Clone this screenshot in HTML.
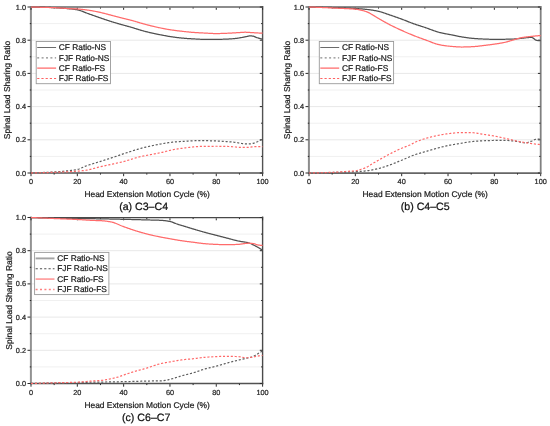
<!DOCTYPE html>
<html><head><meta charset="utf-8"><title>Spinal Load Sharing Ratio</title>
<style>
html,body{margin:0;padding:0;background:#fff;}
body{width:550px;height:426px;overflow:hidden;}
svg{display:block;}
</style></head>
<body>
<svg width="550" height="426" viewBox="0 0 550 426" font-family="'Liberation Sans', Arial, sans-serif">
<style>text{stroke:currentColor;stroke-width:0.22px;text-rendering:geometricPrecision;}</style>
<rect width="550" height="426" fill="#fff"/>
<line x1="32" y1="156.4" x2="261.6" y2="156.4" stroke="#f0f0f0" stroke-width="1"/>
<line x1="32" y1="139.8" x2="261.6" y2="139.8" stroke="#e8e8e8" stroke-width="1"/>
<line x1="32" y1="123.2" x2="261.6" y2="123.2" stroke="#f0f0f0" stroke-width="1"/>
<line x1="32" y1="106.6" x2="261.6" y2="106.6" stroke="#e8e8e8" stroke-width="1"/>
<line x1="32" y1="90" x2="261.6" y2="90" stroke="#f0f0f0" stroke-width="1"/>
<line x1="32" y1="73.4" x2="261.6" y2="73.4" stroke="#e8e8e8" stroke-width="1"/>
<line x1="32" y1="56.8" x2="261.6" y2="56.8" stroke="#f0f0f0" stroke-width="1"/>
<line x1="32" y1="40.2" x2="261.6" y2="40.2" stroke="#e8e8e8" stroke-width="1"/>
<line x1="32" y1="23.6" x2="261.6" y2="23.6" stroke="#f0f0f0" stroke-width="1"/>
<line x1="30.9" y1="6" x2="30.9" y2="173.8" stroke="#8c8c8c" stroke-width="2"/>
<line x1="30" y1="6.9" x2="263.2" y2="6.9" stroke="#8c8c8c" stroke-width="2"/>
<line x1="30" y1="173.1" x2="263.3" y2="173.1" stroke="#525252" stroke-width="1.5"/>
<line x1="262.6" y1="6" x2="262.6" y2="173.8" stroke="#525252" stroke-width="1.4"/>
<path d="M31,173.6V176.2M31,7.8V9.8M27.5,173H30.4M259.8,173H262.2M54.16,173.2V174.6M54.16,7.5V8.6M29.8,156.4H31.2M261.1,156.4H262.4M77.32,173.6V176.2M77.32,7.8V9.8M27.5,139.8H30.4M259.8,139.8H262.2M100.48,173.2V174.6M100.48,7.5V8.6M29.8,123.2H31.2M261.1,123.2H262.4M123.64,173.6V176.2M123.64,7.8V9.8M27.5,106.6H30.4M259.8,106.6H262.2M146.8,173.2V174.6M146.8,7.5V8.6M29.8,90H31.2M261.1,90H262.4M169.96,173.6V176.2M169.96,7.8V9.8M27.5,73.4H30.4M259.8,73.4H262.2M193.12,173.2V174.6M193.12,7.5V8.6M29.8,56.8H31.2M261.1,56.8H262.4M216.28,173.6V176.2M216.28,7.8V9.8M27.5,40.2H30.4M259.8,40.2H262.2M239.44,173.2V174.6M239.44,7.5V8.6M29.8,23.6H31.2M261.1,23.6H262.4M262.6,173.6V176.2M262.6,7.8V9.8M27.5,7H30.4M259.8,7H262.2" stroke="#2a2a2a" stroke-width="1" fill="none"/>
<path d="M31,7 L31.58,7 L32.16,7 L32.74,7.01 L33.32,7.01 L33.9,7.01 L34.47,7.02 L35.05,7.03 L35.63,7.03 L36.21,7.04 L36.79,7.05 L37.37,7.06 L37.95,7.07 L38.53,7.08 L39.11,7.09 L39.69,7.11 L40.26,7.12 L40.84,7.13 L41.42,7.14 L42,7.15 L42.58,7.17 L43.16,7.18 L43.74,7.19 L44.32,7.21 L44.9,7.23 L45.48,7.25 L46.05,7.27 L46.63,7.29 L47.21,7.32 L47.79,7.34 L48.37,7.37 L48.95,7.4 L49.53,7.42 L50.11,7.45 L50.69,7.48 L51.27,7.51 L51.84,7.54 L52.42,7.57 L53,7.6 L53.58,7.63 L54.16,7.66 L54.74,7.7 L55.32,7.73 L55.9,7.76 L56.48,7.79 L57.06,7.83 L57.63,7.86 L58.21,7.9 L58.79,7.94 L59.37,7.97 L59.95,8.01 L60.53,8.05 L61.11,8.09 L61.69,8.13 L62.27,8.17 L62.85,8.22 L63.42,8.26 L64,8.3 L64.58,8.35 L65.16,8.4 L65.74,8.45 L66.32,8.5 L66.9,8.55 L67.48,8.6 L68.06,8.65 L68.64,8.7 L69.21,8.76 L69.79,8.81 L70.37,8.87 L70.95,8.93 L71.53,8.99 L72.11,9.06 L72.69,9.13 L73.27,9.2 L73.85,9.27 L74.42,9.35 L75,9.43 L75.58,9.52 L76.16,9.62 L76.74,9.72 L77.32,9.82 L77.9,9.94 L78.48,10.08 L79.06,10.23 L79.64,10.4 L80.22,10.58 L80.79,10.78 L81.37,10.98 L81.95,11.2 L82.53,11.42 L83.11,11.65 L83.69,11.88 L84.27,12.11 L84.85,12.35 L85.43,12.58 L86.01,12.81 L86.58,13.04 L87.16,13.26 L87.74,13.47 L88.32,13.68 L88.9,13.88 L89.48,14.09 L90.06,14.29 L90.64,14.5 L91.22,14.7 L91.8,14.91 L92.37,15.11 L92.95,15.32 L93.53,15.52 L94.11,15.73 L94.69,15.93 L95.27,16.14 L95.85,16.34 L96.43,16.55 L97.01,16.75 L97.59,16.95 L98.16,17.16 L98.74,17.36 L99.32,17.56 L99.9,17.76 L100.48,17.96 L101.06,18.15 L101.64,18.35 L102.22,18.55 L102.8,18.75 L103.38,18.95 L103.95,19.15 L104.53,19.34 L105.11,19.54 L105.69,19.74 L106.27,19.93 L106.85,20.12 L107.43,20.32 L108.01,20.51 L108.59,20.7 L109.17,20.89 L109.74,21.07 L110.32,21.26 L110.9,21.44 L111.48,21.62 L112.06,21.8 L112.64,21.98 L113.22,22.16 L113.8,22.33 L114.38,22.51 L114.95,22.68 L115.53,22.85 L116.11,23.02 L116.69,23.19 L117.27,23.36 L117.85,23.53 L118.43,23.7 L119.01,23.86 L119.59,24.03 L120.17,24.2 L120.75,24.36 L121.32,24.53 L121.9,24.69 L122.48,24.85 L123.06,25.01 L123.64,25.17 L124.22,25.33 L124.8,25.49 L125.38,25.65 L125.96,25.8 L126.54,25.96 L127.11,26.12 L127.69,26.28 L128.27,26.44 L128.85,26.6 L129.43,26.76 L130.01,26.92 L130.59,27.09 L131.17,27.25 L131.75,27.42 L132.33,27.59 L132.9,27.76 L133.48,27.94 L134.06,28.12 L134.64,28.3 L135.22,28.48 L135.8,28.66 L136.38,28.85 L136.96,29.03 L137.54,29.21 L138.12,29.4 L138.69,29.58 L139.27,29.76 L139.85,29.94 L140.43,30.11 L141.01,30.28 L141.59,30.45 L142.17,30.61 L142.75,30.77 L143.33,30.93 L143.91,31.08 L144.48,31.23 L145.06,31.38 L145.64,31.53 L146.22,31.68 L146.8,31.82 L147.38,31.97 L147.96,32.11 L148.54,32.25 L149.12,32.39 L149.7,32.53 L150.27,32.66 L150.85,32.8 L151.43,32.93 L152.01,33.06 L152.59,33.19 L153.17,33.32 L153.75,33.44 L154.33,33.57 L154.91,33.69 L155.49,33.81 L156.06,33.93 L156.64,34.05 L157.22,34.17 L157.8,34.29 L158.38,34.4 L158.96,34.52 L159.54,34.63 L160.12,34.74 L160.7,34.85 L161.28,34.96 L161.85,35.07 L162.43,35.18 L163.01,35.29 L163.59,35.4 L164.17,35.51 L164.75,35.62 L165.33,35.73 L165.91,35.84 L166.49,35.94 L167.07,36.05 L167.64,36.16 L168.22,36.26 L168.8,36.36 L169.38,36.46 L169.96,36.55 L170.54,36.64 L171.12,36.72 L171.7,36.81 L172.28,36.9 L172.86,36.98 L173.43,37.06 L174.01,37.15 L174.59,37.23 L175.17,37.31 L175.75,37.38 L176.33,37.46 L176.91,37.53 L177.49,37.6 L178.07,37.67 L178.65,37.74 L179.22,37.81 L179.8,37.87 L180.38,37.93 L180.96,37.99 L181.54,38.04 L182.12,38.09 L182.7,38.15 L183.28,38.2 L183.86,38.24 L184.44,38.29 L185.01,38.34 L185.59,38.38 L186.17,38.43 L186.75,38.47 L187.33,38.51 L187.91,38.55 L188.49,38.59 L189.07,38.63 L189.65,38.67 L190.23,38.7 L190.8,38.74 L191.38,38.77 L191.96,38.81 L192.54,38.84 L193.12,38.87 L193.7,38.9 L194.28,38.94 L194.86,38.97 L195.44,39 L196.01,39.04 L196.59,39.07 L197.17,39.1 L197.75,39.14 L198.33,39.17 L198.91,39.2 L199.49,39.23 L200.07,39.25 L200.65,39.28 L201.23,39.3 L201.81,39.32 L202.38,39.34 L202.96,39.35 L203.54,39.36 L204.12,39.37 L204.7,39.37 L205.28,39.37 L205.86,39.37 L206.44,39.37 L207.02,39.37 L207.59,39.37 L208.17,39.37 L208.75,39.37 L209.33,39.37 L209.91,39.37 L210.49,39.37 L211.07,39.37 L211.65,39.37 L212.23,39.37 L212.81,39.37 L213.38,39.37 L213.96,39.37 L214.54,39.37 L215.12,39.37 L215.7,39.37 L216.28,39.37 L216.86,39.37 L217.44,39.37 L218.02,39.36 L218.6,39.35 L219.18,39.34 L219.75,39.33 L220.33,39.32 L220.91,39.3 L221.49,39.28 L222.07,39.27 L222.65,39.25 L223.23,39.23 L223.81,39.2 L224.39,39.18 L224.97,39.16 L225.54,39.14 L226.12,39.11 L226.7,39.09 L227.28,39.06 L227.86,39.04 L228.44,39.01 L229.02,38.98 L229.6,38.95 L230.18,38.91 L230.76,38.88 L231.33,38.84 L231.91,38.79 L232.49,38.75 L233.07,38.7 L233.65,38.65 L234.23,38.59 L234.81,38.54 L235.39,38.48 L235.97,38.41 L236.55,38.34 L237.12,38.26 L237.7,38.18 L238.28,38.09 L238.86,38 L239.44,37.9 L240.02,37.81 L240.6,37.71 L241.18,37.61 L241.76,37.5 L242.34,37.39 L242.91,37.27 L243.49,37.14 L244.07,37.02 L244.65,36.9 L245.23,36.78 L245.81,36.66 L246.39,36.55 L246.97,36.43 L247.55,36.29 L248.13,36.15 L248.7,36.03 L249.28,35.94 L249.86,35.89 L250.44,35.89 L251.02,35.92 L251.6,35.97 L252.18,36.04 L252.76,36.13 L253.34,36.22 L253.92,36.35 L254.49,36.56 L255.07,36.81 L255.65,37.07 L256.23,37.33 L256.81,37.54 L257.39,37.73 L257.97,37.92 L258.55,38.1 L259.13,38.28 L259.71,38.45 L260.28,38.61 L260.86,38.77 L261.44,38.92 L262.02,39.07 L262.6,39.2" stroke="#505050" stroke-width="1.25" fill="none" stroke-linejoin="round"/>
<path d="M31,173 L31.58,172.98 L32.16,172.95 L32.74,172.93 L33.32,172.9 L33.9,172.88 L34.47,172.85 L35.05,172.83 L35.63,172.8 L36.21,172.78 L36.79,172.75 L37.37,172.73 L37.95,172.7 L38.53,172.68 L39.11,172.65 L39.69,172.63 L40.26,172.6 L40.84,172.58 L41.42,172.55 L42,172.53 L42.58,172.5 L43.16,172.48 L43.74,172.45 L44.32,172.43 L44.9,172.41 L45.48,172.39 L46.05,172.36 L46.63,172.34 L47.21,172.32 L47.79,172.3 L48.37,172.27 L48.95,172.25 L49.53,172.23 L50.11,172.2 L50.69,172.18 L51.27,172.15 L51.84,172.12 L52.42,172.1 L53,172.07 L53.58,172.04 L54.16,172 L54.74,171.97 L55.32,171.93 L55.9,171.89 L56.48,171.85 L57.06,171.81 L57.63,171.77 L58.21,171.72 L58.79,171.67 L59.37,171.62 L59.95,171.57 L60.53,171.52 L61.11,171.47 L61.69,171.41 L62.27,171.36 L62.85,171.3 L63.42,171.24 L64,171.19 L64.58,171.13 L65.16,171.07 L65.74,171.01 L66.32,170.95 L66.9,170.89 L67.48,170.83 L68.06,170.77 L68.64,170.72 L69.21,170.66 L69.79,170.6 L70.37,170.54 L70.95,170.47 L71.53,170.4 L72.11,170.34 L72.69,170.26 L73.27,170.19 L73.85,170.11 L74.42,170.02 L75,169.93 L75.58,169.84 L76.16,169.73 L76.74,169.63 L77.32,169.51 L77.9,169.38 L78.48,169.21 L79.06,169.01 L79.64,168.79 L80.22,168.55 L80.79,168.29 L81.37,168.02 L81.95,167.74 L82.53,167.46 L83.11,167.19 L83.69,166.92 L84.27,166.66 L84.85,166.42 L85.43,166.19 L86.01,165.99 L86.58,165.78 L87.16,165.58 L87.74,165.38 L88.32,165.19 L88.9,164.99 L89.48,164.8 L90.06,164.62 L90.64,164.43 L91.22,164.25 L91.8,164.06 L92.37,163.88 L92.95,163.7 L93.53,163.53 L94.11,163.35 L94.69,163.17 L95.27,162.99 L95.85,162.82 L96.43,162.64 L97.01,162.46 L97.59,162.29 L98.16,162.11 L98.74,161.93 L99.32,161.75 L99.9,161.56 L100.48,161.38 L101.06,161.2 L101.64,161.01 L102.22,160.83 L102.8,160.64 L103.38,160.46 L103.95,160.28 L104.53,160.09 L105.11,159.91 L105.69,159.73 L106.27,159.54 L106.85,159.36 L107.43,159.18 L108.01,158.99 L108.59,158.81 L109.17,158.62 L109.74,158.44 L110.32,158.25 L110.9,158.06 L111.48,157.88 L112.06,157.69 L112.64,157.5 L113.22,157.31 L113.8,157.11 L114.38,156.92 L114.95,156.72 L115.53,156.53 L116.11,156.33 L116.69,156.13 L117.27,155.93 L117.85,155.73 L118.43,155.52 L119.01,155.32 L119.59,155.12 L120.17,154.92 L120.75,154.72 L121.32,154.52 L121.9,154.32 L122.48,154.13 L123.06,153.94 L123.64,153.74 L124.22,153.55 L124.8,153.36 L125.38,153.17 L125.96,152.98 L126.54,152.79 L127.11,152.6 L127.69,152.41 L128.27,152.22 L128.85,152.03 L129.43,151.84 L130.01,151.65 L130.59,151.47 L131.17,151.28 L131.75,151.09 L132.33,150.91 L132.9,150.72 L133.48,150.54 L134.06,150.36 L134.64,150.18 L135.22,150.01 L135.8,149.83 L136.38,149.66 L136.96,149.49 L137.54,149.32 L138.12,149.15 L138.69,148.98 L139.27,148.82 L139.85,148.66 L140.43,148.5 L141.01,148.35 L141.59,148.19 L142.17,148.04 L142.75,147.89 L143.33,147.75 L143.91,147.6 L144.48,147.45 L145.06,147.31 L145.64,147.17 L146.22,147.03 L146.8,146.89 L147.38,146.76 L147.96,146.62 L148.54,146.49 L149.12,146.35 L149.7,146.22 L150.27,146.1 L150.85,145.97 L151.43,145.84 L152.01,145.72 L152.59,145.59 L153.17,145.47 L153.75,145.35 L154.33,145.22 L154.91,145.11 L155.49,144.99 L156.06,144.87 L156.64,144.75 L157.22,144.64 L157.8,144.53 L158.38,144.42 L158.96,144.31 L159.54,144.2 L160.12,144.09 L160.7,143.99 L161.28,143.88 L161.85,143.78 L162.43,143.68 L163.01,143.58 L163.59,143.48 L164.17,143.38 L164.75,143.28 L165.33,143.18 L165.91,143.09 L166.49,142.99 L167.07,142.9 L167.64,142.8 L168.22,142.71 L168.8,142.62 L169.38,142.54 L169.96,142.46 L170.54,142.38 L171.12,142.31 L171.7,142.24 L172.28,142.17 L172.86,142.11 L173.43,142.05 L174.01,142 L174.59,141.94 L175.17,141.89 L175.75,141.84 L176.33,141.79 L176.91,141.74 L177.49,141.7 L178.07,141.65 L178.65,141.61 L179.22,141.57 L179.8,141.53 L180.38,141.49 L180.96,141.45 L181.54,141.41 L182.12,141.38 L182.7,141.35 L183.28,141.31 L183.86,141.28 L184.44,141.25 L185.01,141.22 L185.59,141.19 L186.17,141.15 L186.75,141.12 L187.33,141.09 L187.91,141.06 L188.49,141.02 L189.07,140.99 L189.65,140.96 L190.23,140.93 L190.8,140.9 L191.38,140.87 L191.96,140.85 L192.54,140.82 L193.12,140.79 L193.7,140.77 L194.28,140.75 L194.86,140.73 L195.44,140.71 L196.01,140.69 L196.59,140.68 L197.17,140.66 L197.75,140.65 L198.33,140.64 L198.91,140.64 L199.49,140.63 L200.07,140.63 L200.65,140.63 L201.23,140.63 L201.81,140.64 L202.38,140.64 L202.96,140.64 L203.54,140.65 L204.12,140.66 L204.7,140.67 L205.28,140.67 L205.86,140.68 L206.44,140.7 L207.02,140.71 L207.59,140.72 L208.17,140.73 L208.75,140.75 L209.33,140.76 L209.91,140.77 L210.49,140.79 L211.07,140.81 L211.65,140.82 L212.23,140.84 L212.81,140.85 L213.38,140.87 L213.96,140.89 L214.54,140.91 L215.12,140.93 L215.7,140.94 L216.28,140.96 L216.86,140.98 L217.44,141 L218.02,141.03 L218.6,141.06 L219.18,141.09 L219.75,141.12 L220.33,141.15 L220.91,141.19 L221.49,141.22 L222.07,141.26 L222.65,141.3 L223.23,141.34 L223.81,141.38 L224.39,141.42 L224.97,141.47 L225.54,141.51 L226.12,141.55 L226.7,141.59 L227.28,141.63 L227.86,141.68 L228.44,141.72 L229.02,141.76 L229.6,141.81 L230.18,141.85 L230.76,141.9 L231.33,141.95 L231.91,142 L232.49,142.05 L233.07,142.11 L233.65,142.16 L234.23,142.23 L234.81,142.29 L235.39,142.36 L235.97,142.45 L236.55,142.55 L237.12,142.65 L237.7,142.76 L238.28,142.87 L238.86,142.99 L239.44,143.1 L240.02,143.21 L240.6,143.32 L241.18,143.41 L241.76,143.5 L242.34,143.58 L242.91,143.64 L243.49,143.71 L244.07,143.77 L244.65,143.83 L245.23,143.88 L245.81,143.92 L246.39,143.94 L246.97,143.95 L247.55,143.94 L248.13,143.93 L248.7,143.9 L249.28,143.87 L249.86,143.83 L250.44,143.79 L251.02,143.74 L251.6,143.66 L252.18,143.56 L252.76,143.43 L253.34,143.3 L253.92,143.15 L254.49,142.99 L255.07,142.79 L255.65,142.56 L256.23,142.31 L256.81,142.05 L257.39,141.79 L257.97,141.52 L258.55,141.2 L259.13,140.86 L259.71,140.51 L260.28,140.19 L260.86,139.92 L261.44,139.73 L262.02,139.58 L262.6,139.47" stroke="#5e5e5e" stroke-width="1.2" fill="none" stroke-linejoin="round" stroke-dasharray="2.1,1.8"/>
<path d="M31,7 L31.58,7.02 L32.16,7.03 L32.74,7.05 L33.32,7.07 L33.9,7.08 L34.47,7.1 L35.05,7.12 L35.63,7.13 L36.21,7.15 L36.79,7.17 L37.37,7.18 L37.95,7.2 L38.53,7.22 L39.11,7.23 L39.69,7.25 L40.26,7.27 L40.84,7.28 L41.42,7.3 L42,7.32 L42.58,7.33 L43.16,7.35 L43.74,7.36 L44.32,7.38 L44.9,7.39 L45.48,7.41 L46.05,7.42 L46.63,7.44 L47.21,7.45 L47.79,7.47 L48.37,7.48 L48.95,7.5 L49.53,7.51 L50.11,7.53 L50.69,7.55 L51.27,7.56 L51.84,7.58 L52.42,7.6 L53,7.62 L53.58,7.64 L54.16,7.66 L54.74,7.69 L55.32,7.71 L55.9,7.74 L56.48,7.77 L57.06,7.8 L57.63,7.84 L58.21,7.87 L58.79,7.91 L59.37,7.95 L59.95,7.99 L60.53,8.03 L61.11,8.07 L61.69,8.11 L62.27,8.15 L62.85,8.2 L63.42,8.24 L64,8.28 L64.58,8.32 L65.16,8.36 L65.74,8.4 L66.32,8.44 L66.9,8.48 L67.48,8.52 L68.06,8.56 L68.64,8.59 L69.21,8.62 L69.79,8.65 L70.37,8.68 L70.95,8.71 L71.53,8.73 L72.11,8.76 L72.69,8.78 L73.27,8.8 L73.85,8.83 L74.42,8.85 L75,8.87 L75.58,8.9 L76.16,8.93 L76.74,8.96 L77.32,8.99 L77.9,9.03 L78.48,9.07 L79.06,9.12 L79.64,9.16 L80.22,9.21 L80.79,9.27 L81.37,9.32 L81.95,9.38 L82.53,9.45 L83.11,9.51 L83.69,9.58 L84.27,9.65 L84.85,9.72 L85.43,9.79 L86.01,9.86 L86.58,9.94 L87.16,10.01 L87.74,10.09 L88.32,10.17 L88.9,10.25 L89.48,10.34 L90.06,10.43 L90.64,10.52 L91.22,10.62 L91.8,10.72 L92.37,10.82 L92.95,10.92 L93.53,11.03 L94.11,11.14 L94.69,11.26 L95.27,11.37 L95.85,11.49 L96.43,11.61 L97.01,11.73 L97.59,11.85 L98.16,11.98 L98.74,12.1 L99.32,12.23 L99.9,12.35 L100.48,12.48 L101.06,12.61 L101.64,12.74 L102.22,12.88 L102.8,13.02 L103.38,13.16 L103.95,13.3 L104.53,13.45 L105.11,13.6 L105.69,13.75 L106.27,13.91 L106.85,14.06 L107.43,14.21 L108.01,14.37 L108.59,14.52 L109.17,14.68 L109.74,14.83 L110.32,14.98 L110.9,15.13 L111.48,15.28 L112.06,15.44 L112.64,15.59 L113.22,15.74 L113.8,15.89 L114.38,16.05 L114.95,16.2 L115.53,16.35 L116.11,16.51 L116.69,16.66 L117.27,16.81 L117.85,16.96 L118.43,17.11 L119.01,17.27 L119.59,17.42 L120.17,17.56 L120.75,17.71 L121.32,17.86 L121.9,18 L122.48,18.15 L123.06,18.29 L123.64,18.43 L124.22,18.57 L124.8,18.71 L125.38,18.85 L125.96,18.99 L126.54,19.13 L127.11,19.27 L127.69,19.41 L128.27,19.56 L128.85,19.7 L129.43,19.84 L130.01,19.99 L130.59,20.14 L131.17,20.29 L131.75,20.45 L132.33,20.6 L132.9,20.76 L133.48,20.93 L134.06,21.09 L134.64,21.26 L135.22,21.43 L135.8,21.6 L136.38,21.77 L136.96,21.95 L137.54,22.12 L138.12,22.29 L138.69,22.47 L139.27,22.64 L139.85,22.81 L140.43,22.98 L141.01,23.14 L141.59,23.31 L142.17,23.47 L142.75,23.63 L143.33,23.79 L143.91,23.95 L144.48,24.11 L145.06,24.26 L145.64,24.42 L146.22,24.57 L146.8,24.73 L147.38,24.88 L147.96,25.03 L148.54,25.19 L149.12,25.34 L149.7,25.48 L150.27,25.63 L150.85,25.78 L151.43,25.92 L152.01,26.06 L152.59,26.2 L153.17,26.34 L153.75,26.48 L154.33,26.61 L154.91,26.74 L155.49,26.88 L156.06,27.01 L156.64,27.14 L157.22,27.26 L157.8,27.39 L158.38,27.52 L158.96,27.64 L159.54,27.76 L160.12,27.88 L160.7,28.01 L161.28,28.12 L161.85,28.24 L162.43,28.36 L163.01,28.47 L163.59,28.59 L164.17,28.7 L164.75,28.81 L165.33,28.92 L165.91,29.03 L166.49,29.14 L167.07,29.25 L167.64,29.36 L168.22,29.46 L168.8,29.56 L169.38,29.65 L169.96,29.74 L170.54,29.83 L171.12,29.92 L171.7,30 L172.28,30.08 L172.86,30.16 L173.43,30.24 L174.01,30.32 L174.59,30.4 L175.17,30.47 L175.75,30.55 L176.33,30.62 L176.91,30.69 L177.49,30.76 L178.07,30.83 L178.65,30.9 L179.22,30.97 L179.8,31.04 L180.38,31.1 L180.96,31.17 L181.54,31.24 L182.12,31.3 L182.7,31.37 L183.28,31.43 L183.86,31.5 L184.44,31.56 L185.01,31.63 L185.59,31.69 L186.17,31.75 L186.75,31.81 L187.33,31.87 L187.91,31.93 L188.49,31.99 L189.07,32.05 L189.65,32.11 L190.23,32.16 L190.8,32.21 L191.38,32.26 L191.96,32.31 L192.54,32.35 L193.12,32.4 L193.7,32.44 L194.28,32.48 L194.86,32.52 L195.44,32.56 L196.01,32.59 L196.59,32.63 L197.17,32.66 L197.75,32.7 L198.33,32.73 L198.91,32.76 L199.49,32.8 L200.07,32.83 L200.65,32.86 L201.23,32.89 L201.81,32.92 L202.38,32.95 L202.96,32.98 L203.54,33 L204.12,33.03 L204.7,33.06 L205.28,33.09 L205.86,33.12 L206.44,33.15 L207.02,33.19 L207.59,33.22 L208.17,33.25 L208.75,33.29 L209.33,33.32 L209.91,33.35 L210.49,33.38 L211.07,33.41 L211.65,33.44 L212.23,33.47 L212.81,33.49 L213.38,33.51 L213.96,33.53 L214.54,33.54 L215.12,33.55 L215.7,33.56 L216.28,33.56 L216.86,33.56 L217.44,33.55 L218.02,33.55 L218.6,33.54 L219.18,33.53 L219.75,33.52 L220.33,33.5 L220.91,33.49 L221.49,33.47 L222.07,33.45 L222.65,33.43 L223.23,33.41 L223.81,33.39 L224.39,33.36 L224.97,33.34 L225.54,33.32 L226.12,33.3 L226.7,33.27 L227.28,33.25 L227.86,33.23 L228.44,33.2 L229.02,33.18 L229.6,33.15 L230.18,33.12 L230.76,33.09 L231.33,33.06 L231.91,33.03 L232.49,32.99 L233.07,32.96 L233.65,32.92 L234.23,32.89 L234.81,32.85 L235.39,32.81 L235.97,32.78 L236.55,32.74 L237.12,32.7 L237.7,32.67 L238.28,32.63 L238.86,32.6 L239.44,32.56 L240.02,32.53 L240.6,32.49 L241.18,32.44 L241.76,32.4 L242.34,32.36 L242.91,32.32 L243.49,32.28 L244.07,32.26 L244.65,32.24 L245.23,32.23 L245.81,32.24 L246.39,32.26 L246.97,32.28 L247.55,32.32 L248.13,32.36 L248.7,32.4 L249.28,32.44 L249.86,32.49 L250.44,32.53 L251.02,32.56 L251.6,32.6 L252.18,32.63 L252.76,32.66 L253.34,32.7 L253.92,32.73 L254.49,32.76 L255.07,32.8 L255.65,32.83 L256.23,32.86 L256.81,32.9 L257.39,32.93 L257.97,32.96 L258.55,33 L259.13,33.03 L259.71,33.06 L260.28,33.1 L260.86,33.13 L261.44,33.16 L262.02,33.19 L262.6,33.23" stroke="#ff6b6b" stroke-width="1.25" fill="none" stroke-linejoin="round"/>
<path d="M31,173 L31.58,172.98 L32.16,172.97 L32.74,172.95 L33.32,172.93 L33.9,172.92 L34.47,172.9 L35.05,172.88 L35.63,172.87 L36.21,172.85 L36.79,172.83 L37.37,172.82 L37.95,172.8 L38.53,172.78 L39.11,172.77 L39.69,172.75 L40.26,172.73 L40.84,172.72 L41.42,172.7 L42,172.68 L42.58,172.67 L43.16,172.65 L43.74,172.64 L44.32,172.62 L44.9,172.6 L45.48,172.59 L46.05,172.57 L46.63,172.56 L47.21,172.54 L47.79,172.53 L48.37,172.51 L48.95,172.49 L49.53,172.48 L50.11,172.46 L50.69,172.45 L51.27,172.43 L51.84,172.41 L52.42,172.39 L53,172.37 L53.58,172.36 L54.16,172.34 L54.74,172.32 L55.32,172.29 L55.9,172.27 L56.48,172.25 L57.06,172.23 L57.63,172.21 L58.21,172.18 L58.79,172.16 L59.37,172.13 L59.95,172.11 L60.53,172.08 L61.11,172.06 L61.69,172.03 L62.27,172 L62.85,171.98 L63.42,171.95 L64,171.92 L64.58,171.89 L65.16,171.87 L65.74,171.84 L66.32,171.81 L66.9,171.78 L67.48,171.75 L68.06,171.72 L68.64,171.69 L69.21,171.67 L69.79,171.64 L70.37,171.61 L70.95,171.57 L71.53,171.54 L72.11,171.51 L72.69,171.48 L73.27,171.44 L73.85,171.41 L74.42,171.37 L75,171.34 L75.58,171.3 L76.16,171.26 L76.74,171.22 L77.32,171.17 L77.9,171.13 L78.48,171.08 L79.06,171.04 L79.64,170.99 L80.22,170.93 L80.79,170.88 L81.37,170.82 L81.95,170.76 L82.53,170.7 L83.11,170.64 L83.69,170.57 L84.27,170.5 L84.85,170.42 L85.43,170.34 L86.01,170.26 L86.58,170.16 L87.16,170.06 L87.74,169.95 L88.32,169.83 L88.9,169.71 L89.48,169.58 L90.06,169.44 L90.64,169.3 L91.22,169.15 L91.8,169 L92.37,168.85 L92.95,168.69 L93.53,168.53 L94.11,168.37 L94.69,168.21 L95.27,168.05 L95.85,167.89 L96.43,167.73 L97.01,167.57 L97.59,167.42 L98.16,167.26 L98.74,167.11 L99.32,166.97 L99.9,166.83 L100.48,166.69 L101.06,166.56 L101.64,166.43 L102.22,166.3 L102.8,166.17 L103.38,166.04 L103.95,165.92 L104.53,165.79 L105.11,165.67 L105.69,165.54 L106.27,165.42 L106.85,165.3 L107.43,165.17 L108.01,165.05 L108.59,164.93 L109.17,164.8 L109.74,164.68 L110.32,164.55 L110.9,164.43 L111.48,164.3 L112.06,164.18 L112.64,164.05 L113.22,163.92 L113.8,163.79 L114.38,163.66 L114.95,163.54 L115.53,163.41 L116.11,163.28 L116.69,163.16 L117.27,163.03 L117.85,162.9 L118.43,162.77 L119.01,162.64 L119.59,162.51 L120.17,162.38 L120.75,162.25 L121.32,162.11 L121.9,161.97 L122.48,161.83 L123.06,161.69 L123.64,161.55 L124.22,161.4 L124.8,161.24 L125.38,161.08 L125.96,160.92 L126.54,160.75 L127.11,160.58 L127.69,160.4 L128.27,160.23 L128.85,160.05 L129.43,159.87 L130.01,159.68 L130.59,159.5 L131.17,159.32 L131.75,159.13 L132.33,158.95 L132.9,158.77 L133.48,158.59 L134.06,158.41 L134.64,158.23 L135.22,158.05 L135.8,157.88 L136.38,157.71 L136.96,157.54 L137.54,157.38 L138.12,157.23 L138.69,157.07 L139.27,156.93 L139.85,156.79 L140.43,156.65 L141.01,156.52 L141.59,156.39 L142.17,156.27 L142.75,156.15 L143.33,156.03 L143.91,155.92 L144.48,155.8 L145.06,155.69 L145.64,155.58 L146.22,155.47 L146.8,155.37 L147.38,155.26 L147.96,155.15 L148.54,155.04 L149.12,154.93 L149.7,154.82 L150.27,154.71 L150.85,154.6 L151.43,154.48 L152.01,154.37 L152.59,154.26 L153.17,154.15 L153.75,154.03 L154.33,153.92 L154.91,153.81 L155.49,153.7 L156.06,153.59 L156.64,153.48 L157.22,153.37 L157.8,153.25 L158.38,153.14 L158.96,153.02 L159.54,152.9 L160.12,152.79 L160.7,152.66 L161.28,152.54 L161.85,152.42 L162.43,152.29 L163.01,152.15 L163.59,152.01 L164.17,151.87 L164.75,151.72 L165.33,151.57 L165.91,151.41 L166.49,151.26 L167.07,151.11 L167.64,150.95 L168.22,150.8 L168.8,150.65 L169.38,150.51 L169.96,150.36 L170.54,150.23 L171.12,150.09 L171.7,149.97 L172.28,149.85 L172.86,149.74 L173.43,149.63 L174.01,149.53 L174.59,149.42 L175.17,149.33 L175.75,149.23 L176.33,149.13 L176.91,149.04 L177.49,148.95 L178.07,148.86 L178.65,148.77 L179.22,148.69 L179.8,148.6 L180.38,148.52 L180.96,148.44 L181.54,148.37 L182.12,148.29 L182.7,148.22 L183.28,148.14 L183.86,148.07 L184.44,148 L185.01,147.92 L185.59,147.85 L186.17,147.77 L186.75,147.7 L187.33,147.62 L187.91,147.55 L188.49,147.47 L189.07,147.4 L189.65,147.32 L190.23,147.25 L190.8,147.18 L191.38,147.11 L191.96,147.04 L192.54,146.98 L193.12,146.91 L193.7,146.85 L194.28,146.79 L194.86,146.74 L195.44,146.69 L196.01,146.64 L196.59,146.6 L197.17,146.56 L197.75,146.53 L198.33,146.5 L198.91,146.47 L199.49,146.45 L200.07,146.44 L200.65,146.43 L201.23,146.42 L201.81,146.41 L202.38,146.4 L202.96,146.39 L203.54,146.38 L204.12,146.37 L204.7,146.36 L205.28,146.36 L205.86,146.35 L206.44,146.34 L207.02,146.33 L207.59,146.33 L208.17,146.32 L208.75,146.31 L209.33,146.31 L209.91,146.3 L210.49,146.3 L211.07,146.29 L211.65,146.29 L212.23,146.29 L212.81,146.28 L213.38,146.28 L213.96,146.28 L214.54,146.28 L215.12,146.27 L215.7,146.27 L216.28,146.27 L216.86,146.27 L217.44,146.28 L218.02,146.28 L218.6,146.28 L219.18,146.29 L219.75,146.29 L220.33,146.3 L220.91,146.31 L221.49,146.32 L222.07,146.33 L222.65,146.34 L223.23,146.35 L223.81,146.36 L224.39,146.37 L224.97,146.39 L225.54,146.4 L226.12,146.41 L226.7,146.43 L227.28,146.44 L227.86,146.46 L228.44,146.49 L229.02,146.52 L229.6,146.55 L230.18,146.59 L230.76,146.63 L231.33,146.68 L231.91,146.72 L232.49,146.77 L233.07,146.81 L233.65,146.86 L234.23,146.9 L234.81,146.94 L235.39,146.98 L235.97,147.02 L236.55,147.07 L237.12,147.12 L237.7,147.16 L238.28,147.21 L238.86,147.26 L239.44,147.3 L240.02,147.34 L240.6,147.38 L241.18,147.4 L241.76,147.42 L242.34,147.43 L242.91,147.44 L243.49,147.44 L244.07,147.44 L244.65,147.44 L245.23,147.44 L245.81,147.44 L246.39,147.44 L246.97,147.44 L247.55,147.42 L248.13,147.38 L248.7,147.32 L249.28,147.26 L249.86,147.19 L250.44,147.12 L251.02,147.04 L251.6,146.94 L252.18,146.83 L252.76,146.73 L253.34,146.65 L253.92,146.61 L254.49,146.61 L255.07,146.61 L255.65,146.61 L256.23,146.61 L256.81,146.61 L257.39,146.61 L257.97,146.61 L258.55,146.61 L259.13,146.61 L259.71,146.61 L260.28,146.61 L260.86,146.61 L261.44,146.61 L262.02,146.61 L262.6,146.61" stroke="#ff6868" stroke-width="1.2" fill="none" stroke-linejoin="round" stroke-dasharray="2.1,1.8"/>
<rect x="36.2" y="41.5" width="74.3" height="42.2" fill="#fff" stroke="#9a9a9a" stroke-width="0.9"/>
<line x1="37.2" y1="47.5" x2="56.1" y2="47.5" stroke="#5a5a5a" stroke-width="0.9"/>
<text x="58.8" y="50.25" font-size="8.35" fill="#1a1a1a" color="#1a1a1a">CF Ratio-NS</text>
<line x1="37.2" y1="57.83" x2="56.1" y2="57.83" stroke="#8a8a8a" stroke-width="1.4" stroke-dasharray="2,2.4"/>
<text x="58.8" y="60.58" font-size="8.35" fill="#1a1a1a" color="#1a1a1a">FJF Ratio-NS</text>
<line x1="37.2" y1="68.16" x2="56.1" y2="68.16" stroke="#ff9090" stroke-width="1.7"/>
<text x="58.8" y="70.91" font-size="8.35" fill="#1a1a1a" color="#1a1a1a">CF Ratio-FS</text>
<line x1="37.2" y1="78.49" x2="56.1" y2="78.49" stroke="#ff6262" stroke-width="1.2" stroke-dasharray="2.2,2"/>
<text x="58.8" y="81.24" font-size="8.35" fill="#1a1a1a" color="#1a1a1a">FJF Ratio-FS</text>
<g font-size="7.3" fill="#262626" color="#262626"><text x="31" y="184.2" text-anchor="middle">0</text><text x="77.32" y="184.2" text-anchor="middle">20</text><text x="123.64" y="184.2" text-anchor="middle">40</text><text x="169.96" y="184.2" text-anchor="middle">60</text><text x="216.28" y="184.2" text-anchor="middle">80</text><text x="262.6" y="184.2" text-anchor="middle">100</text><text x="26" y="175.5" text-anchor="end">0.0</text><text x="26" y="142.3" text-anchor="end">0.2</text><text x="26" y="109.1" text-anchor="end">0.4</text><text x="26" y="75.9" text-anchor="end">0.6</text><text x="26" y="42.7" text-anchor="end">0.8</text><text x="26" y="9.5" text-anchor="end">1.0</text></g>
<text x="147.1" y="197" font-size="8.4" fill="#1a1a1a" color="#1a1a1a" text-anchor="middle">Head Extension Motion Cycle (%)</text>
<text transform="translate(10.2,90) rotate(-90)" font-size="8.48" fill="#1a1a1a" color="#1a1a1a" text-anchor="middle">Spinal Load Sharing Ratio</text>
<text x="143.6" y="210.3" font-size="10.6" fill="#111" color="#111" text-anchor="middle">(a) C3–C4</text>
<line x1="310" y1="156.4" x2="539.7" y2="156.4" stroke="#f0f0f0" stroke-width="1"/>
<line x1="310" y1="139.8" x2="539.7" y2="139.8" stroke="#e8e8e8" stroke-width="1"/>
<line x1="310" y1="123.2" x2="539.7" y2="123.2" stroke="#f0f0f0" stroke-width="1"/>
<line x1="310" y1="106.6" x2="539.7" y2="106.6" stroke="#e8e8e8" stroke-width="1"/>
<line x1="310" y1="90" x2="539.7" y2="90" stroke="#f0f0f0" stroke-width="1"/>
<line x1="310" y1="73.4" x2="539.7" y2="73.4" stroke="#e8e8e8" stroke-width="1"/>
<line x1="310" y1="56.8" x2="539.7" y2="56.8" stroke="#f0f0f0" stroke-width="1"/>
<line x1="310" y1="40.2" x2="539.7" y2="40.2" stroke="#e8e8e8" stroke-width="1"/>
<line x1="310" y1="23.6" x2="539.7" y2="23.6" stroke="#f0f0f0" stroke-width="1"/>
<line x1="308.9" y1="6" x2="308.9" y2="173.8" stroke="#8c8c8c" stroke-width="2"/>
<line x1="308" y1="6.9" x2="541.3" y2="6.9" stroke="#8c8c8c" stroke-width="2"/>
<line x1="308" y1="173.1" x2="541.4" y2="173.1" stroke="#666666" stroke-width="1.8"/>
<line x1="540.7" y1="6" x2="540.7" y2="173.8" stroke="#808080" stroke-width="1.8"/>
<path d="M309,173.6V176.2M309,7.8V9.8M305.5,173H308.4M537.9,173H540.3M332.17,173.2V174.6M332.17,7.5V8.6M307.8,156.4H309.2M539.2,156.4H540.5M355.34,173.6V176.2M355.34,7.8V9.8M305.5,139.8H308.4M537.9,139.8H540.3M378.51,173.2V174.6M378.51,7.5V8.6M307.8,123.2H309.2M539.2,123.2H540.5M401.68,173.6V176.2M401.68,7.8V9.8M305.5,106.6H308.4M537.9,106.6H540.3M424.85,173.2V174.6M424.85,7.5V8.6M307.8,90H309.2M539.2,90H540.5M448.02,173.6V176.2M448.02,7.8V9.8M305.5,73.4H308.4M537.9,73.4H540.3M471.19,173.2V174.6M471.19,7.5V8.6M307.8,56.8H309.2M539.2,56.8H540.5M494.36,173.6V176.2M494.36,7.8V9.8M305.5,40.2H308.4M537.9,40.2H540.3M517.53,173.2V174.6M517.53,7.5V8.6M307.8,23.6H309.2M539.2,23.6H540.5M540.7,173.6V176.2M540.7,7.8V9.8M305.5,7H308.4M537.9,7H540.3" stroke="#2a2a2a" stroke-width="1" fill="none"/>
<path d="M309,7 L309.58,7.01 L310.16,7.01 L310.74,7.02 L311.32,7.03 L311.9,7.04 L312.48,7.04 L313.05,7.05 L313.63,7.06 L314.21,7.07 L314.79,7.08 L315.37,7.09 L315.95,7.1 L316.53,7.11 L317.11,7.12 L317.69,7.14 L318.27,7.15 L318.85,7.16 L319.43,7.17 L320.01,7.18 L320.58,7.2 L321.16,7.21 L321.74,7.22 L322.32,7.24 L322.9,7.25 L323.48,7.27 L324.06,7.28 L324.64,7.29 L325.22,7.31 L325.8,7.32 L326.38,7.34 L326.96,7.35 L327.54,7.37 L328.12,7.38 L328.69,7.4 L329.27,7.42 L329.85,7.43 L330.43,7.45 L331.01,7.47 L331.59,7.48 L332.17,7.5 L332.75,7.51 L333.33,7.53 L333.91,7.55 L334.49,7.57 L335.07,7.59 L335.65,7.6 L336.22,7.62 L336.8,7.64 L337.38,7.66 L337.96,7.68 L338.54,7.7 L339.12,7.73 L339.7,7.75 L340.28,7.77 L340.86,7.79 L341.44,7.81 L342.02,7.84 L342.6,7.86 L343.18,7.89 L343.75,7.91 L344.33,7.93 L344.91,7.96 L345.49,7.99 L346.07,8.01 L346.65,8.04 L347.23,8.07 L347.81,8.09 L348.39,8.12 L348.97,8.15 L349.55,8.18 L350.13,8.21 L350.71,8.24 L351.29,8.27 L351.86,8.3 L352.44,8.33 L353.02,8.36 L353.6,8.39 L354.18,8.43 L354.76,8.46 L355.34,8.49 L355.92,8.53 L356.5,8.56 L357.08,8.6 L357.66,8.64 L358.24,8.68 L358.82,8.72 L359.39,8.76 L359.97,8.8 L360.55,8.85 L361.13,8.89 L361.71,8.94 L362.29,8.99 L362.87,9.04 L363.45,9.09 L364.03,9.15 L364.61,9.2 L365.19,9.26 L365.77,9.32 L366.35,9.38 L366.93,9.44 L367.5,9.5 L368.08,9.57 L368.66,9.64 L369.24,9.71 L369.82,9.79 L370.4,9.87 L370.98,9.95 L371.56,10.04 L372.14,10.12 L372.72,10.22 L373.3,10.31 L373.88,10.41 L374.46,10.51 L375.03,10.62 L375.61,10.73 L376.19,10.84 L376.77,10.95 L377.35,11.07 L377.93,11.19 L378.51,11.32 L379.09,11.45 L379.67,11.59 L380.25,11.74 L380.83,11.9 L381.41,12.07 L381.99,12.25 L382.56,12.43 L383.14,12.62 L383.72,12.82 L384.3,13.01 L384.88,13.22 L385.46,13.42 L386.04,13.63 L386.62,13.83 L387.2,14.04 L387.78,14.25 L388.36,14.45 L388.94,14.65 L389.52,14.85 L390.1,15.05 L390.67,15.24 L391.25,15.44 L391.83,15.63 L392.41,15.83 L392.99,16.03 L393.57,16.23 L394.15,16.43 L394.73,16.63 L395.31,16.83 L395.89,17.04 L396.47,17.24 L397.05,17.44 L397.63,17.65 L398.2,17.86 L398.78,18.06 L399.36,18.27 L399.94,18.48 L400.52,18.69 L401.1,18.91 L401.68,19.12 L402.26,19.33 L402.84,19.55 L403.42,19.77 L404,20 L404.58,20.22 L405.16,20.45 L405.73,20.68 L406.31,20.91 L406.89,21.15 L407.47,21.38 L408.05,21.61 L408.63,21.84 L409.21,22.07 L409.79,22.29 L410.37,22.52 L410.95,22.74 L411.53,22.96 L412.11,23.18 L412.69,23.39 L413.26,23.6 L413.84,23.8 L414.42,24.01 L415,24.2 L415.58,24.4 L416.16,24.59 L416.74,24.79 L417.32,24.98 L417.9,25.16 L418.48,25.35 L419.06,25.54 L419.64,25.72 L420.22,25.91 L420.8,26.1 L421.37,26.28 L421.95,26.47 L422.53,26.66 L423.11,26.84 L423.69,27.03 L424.27,27.22 L424.85,27.42 L425.43,27.61 L426.01,27.82 L426.59,28.02 L427.17,28.23 L427.75,28.44 L428.33,28.65 L428.9,28.86 L429.48,29.08 L430.06,29.3 L430.64,29.51 L431.22,29.73 L431.8,29.94 L432.38,30.16 L432.96,30.37 L433.54,30.58 L434.12,30.78 L434.7,30.99 L435.28,31.18 L435.86,31.38 L436.44,31.57 L437.01,31.75 L437.59,31.93 L438.17,32.1 L438.75,32.26 L439.33,32.42 L439.91,32.56 L440.49,32.7 L441.07,32.84 L441.65,32.97 L442.23,33.09 L442.81,33.21 L443.39,33.33 L443.97,33.45 L444.54,33.56 L445.12,33.67 L445.7,33.77 L446.28,33.88 L446.86,33.99 L447.44,34.09 L448.02,34.2 L448.6,34.3 L449.18,34.41 L449.76,34.52 L450.34,34.63 L450.92,34.75 L451.5,34.86 L452.07,34.98 L452.65,35.1 L453.23,35.22 L453.81,35.34 L454.39,35.46 L454.97,35.58 L455.55,35.71 L456.13,35.83 L456.71,35.95 L457.29,36.06 L457.87,36.18 L458.45,36.29 L459.03,36.41 L459.61,36.52 L460.18,36.62 L460.76,36.72 L461.34,36.82 L461.92,36.92 L462.5,37.01 L463.08,37.11 L463.66,37.2 L464.24,37.29 L464.82,37.38 L465.4,37.47 L465.98,37.56 L466.56,37.65 L467.14,37.73 L467.71,37.82 L468.29,37.9 L468.87,37.97 L469.45,38.05 L470.03,38.12 L470.61,38.18 L471.19,38.24 L471.77,38.3 L472.35,38.35 L472.93,38.4 L473.51,38.45 L474.09,38.49 L474.67,38.54 L475.24,38.58 L475.82,38.62 L476.4,38.66 L476.98,38.7 L477.56,38.73 L478.14,38.77 L478.72,38.8 L479.3,38.83 L479.88,38.86 L480.46,38.89 L481.04,38.92 L481.62,38.95 L482.2,38.98 L482.78,39 L483.35,39.02 L483.93,39.05 L484.51,39.07 L485.09,39.09 L485.67,39.12 L486.25,39.14 L486.83,39.16 L487.41,39.19 L487.99,39.21 L488.57,39.23 L489.15,39.25 L489.73,39.27 L490.31,39.29 L490.88,39.31 L491.46,39.32 L492.04,39.34 L492.62,39.35 L493.2,39.36 L493.78,39.36 L494.36,39.37 L494.94,39.37 L495.52,39.37 L496.1,39.37 L496.68,39.37 L497.26,39.36 L497.84,39.36 L498.41,39.36 L498.99,39.35 L499.57,39.35 L500.15,39.34 L500.73,39.33 L501.31,39.33 L501.89,39.32 L502.47,39.31 L503.05,39.3 L503.63,39.29 L504.21,39.28 L504.79,39.26 L505.37,39.25 L505.95,39.24 L506.52,39.23 L507.1,39.21 L507.68,39.2 L508.26,39.18 L508.84,39.17 L509.42,39.15 L510,39.14 L510.58,39.12 L511.16,39.1 L511.74,39.08 L512.32,39.06 L512.9,39.05 L513.48,39.02 L514.05,39 L514.63,38.96 L515.21,38.92 L515.79,38.87 L516.37,38.82 L516.95,38.76 L517.53,38.7 L518.11,38.64 L518.69,38.57 L519.27,38.51 L519.85,38.45 L520.43,38.38 L521.01,38.32 L521.58,38.26 L522.16,38.21 L522.74,38.15 L523.32,38.09 L523.9,38.03 L524.48,37.96 L525.06,37.89 L525.64,37.82 L526.22,37.75 L526.8,37.69 L527.38,37.63 L527.96,37.57 L528.54,37.51 L529.12,37.47 L529.69,37.43 L530.27,37.4 L530.85,37.38 L531.43,37.38 L532.01,37.5 L532.59,37.8 L533.17,38.14 L533.75,38.52 L534.33,39 L534.91,39.51 L535.49,39.94 L536.07,40.2 L536.65,40.33 L537.22,40.43 L537.8,40.51 L538.38,40.53 L538.96,40.53 L539.54,40.53 L540.12,40.53 L540.7,40.53" stroke="#505050" stroke-width="1.25" fill="none" stroke-linejoin="round"/>
<path d="M309,173 L309.58,172.99 L310.16,172.98 L310.74,172.97 L311.32,172.96 L311.9,172.96 L312.48,172.95 L313.05,172.94 L313.63,172.93 L314.21,172.92 L314.79,172.9 L315.37,172.89 L315.95,172.88 L316.53,172.87 L317.11,172.86 L317.69,172.85 L318.27,172.84 L318.85,172.82 L319.43,172.81 L320.01,172.8 L320.58,172.79 L321.16,172.77 L321.74,172.76 L322.32,172.75 L322.9,172.74 L323.48,172.72 L324.06,172.71 L324.64,172.69 L325.22,172.68 L325.8,172.67 L326.38,172.65 L326.96,172.64 L327.54,172.62 L328.12,172.61 L328.69,172.59 L329.27,172.58 L329.85,172.56 L330.43,172.55 L331.01,172.53 L331.59,172.52 L332.17,172.5 L332.75,172.49 L333.33,172.47 L333.91,172.45 L334.49,172.44 L335.07,172.42 L335.65,172.41 L336.22,172.39 L336.8,172.37 L337.38,172.36 L337.96,172.34 L338.54,172.32 L339.12,172.3 L339.7,172.29 L340.28,172.27 L340.86,172.25 L341.44,172.23 L342.02,172.21 L342.6,172.19 L343.18,172.18 L343.75,172.16 L344.33,172.14 L344.91,172.11 L345.49,172.09 L346.07,172.07 L346.65,172.05 L347.23,172.03 L347.81,172.01 L348.39,171.98 L348.97,171.96 L349.55,171.94 L350.13,171.91 L350.71,171.89 L351.29,171.86 L351.86,171.84 L352.44,171.81 L353.02,171.78 L353.6,171.76 L354.18,171.73 L354.76,171.7 L355.34,171.67 L355.92,171.64 L356.5,171.61 L357.08,171.58 L357.66,171.55 L358.24,171.51 L358.82,171.48 L359.39,171.44 L359.97,171.4 L360.55,171.36 L361.13,171.32 L361.71,171.27 L362.29,171.23 L362.87,171.18 L363.45,171.13 L364.03,171.08 L364.61,171.03 L365.19,170.97 L365.77,170.91 L366.35,170.85 L366.93,170.79 L367.5,170.72 L368.08,170.64 L368.66,170.56 L369.24,170.47 L369.82,170.38 L370.4,170.28 L370.98,170.17 L371.56,170.06 L372.14,169.95 L372.72,169.83 L373.3,169.71 L373.88,169.59 L374.46,169.46 L375.03,169.33 L375.61,169.2 L376.19,169.07 L376.77,168.93 L377.35,168.79 L377.93,168.66 L378.51,168.52 L379.09,168.38 L379.67,168.23 L380.25,168.07 L380.83,167.91 L381.41,167.75 L381.99,167.58 L382.56,167.4 L383.14,167.22 L383.72,167.04 L384.3,166.85 L384.88,166.67 L385.46,166.47 L386.04,166.28 L386.62,166.08 L387.2,165.89 L387.78,165.69 L388.36,165.49 L388.94,165.29 L389.52,165.08 L390.1,164.87 L390.67,164.66 L391.25,164.44 L391.83,164.22 L392.41,163.99 L392.99,163.76 L393.57,163.53 L394.15,163.3 L394.73,163.07 L395.31,162.83 L395.89,162.6 L396.47,162.36 L397.05,162.12 L397.63,161.88 L398.2,161.64 L398.78,161.4 L399.36,161.16 L399.94,160.93 L400.52,160.69 L401.1,160.45 L401.68,160.22 L402.26,159.98 L402.84,159.74 L403.42,159.5 L404,159.26 L404.58,159.01 L405.16,158.76 L405.73,158.51 L406.31,158.25 L406.89,158 L407.47,157.75 L408.05,157.5 L408.63,157.25 L409.21,157 L409.79,156.75 L410.37,156.5 L410.95,156.26 L411.53,156.02 L412.11,155.79 L412.69,155.56 L413.26,155.33 L413.84,155.11 L414.42,154.9 L415,154.69 L415.58,154.49 L416.16,154.29 L416.74,154.1 L417.32,153.92 L417.9,153.74 L418.48,153.56 L419.06,153.39 L419.64,153.22 L420.22,153.06 L420.8,152.9 L421.37,152.73 L421.95,152.57 L422.53,152.41 L423.11,152.26 L423.69,152.1 L424.27,151.94 L424.85,151.78 L425.43,151.62 L426.01,151.45 L426.59,151.29 L427.17,151.12 L427.75,150.95 L428.33,150.78 L428.9,150.61 L429.48,150.44 L430.06,150.26 L430.64,150.09 L431.22,149.92 L431.8,149.75 L432.38,149.57 L432.96,149.4 L433.54,149.23 L434.12,149.07 L434.7,148.9 L435.28,148.74 L435.86,148.57 L436.44,148.41 L437.01,148.25 L437.59,148.1 L438.17,147.95 L438.75,147.79 L439.33,147.64 L439.91,147.49 L440.49,147.34 L441.07,147.19 L441.65,147.04 L442.23,146.89 L442.81,146.74 L443.39,146.6 L443.97,146.46 L444.54,146.32 L445.12,146.18 L445.7,146.05 L446.28,145.91 L446.86,145.79 L447.44,145.66 L448.02,145.54 L448.6,145.42 L449.18,145.31 L449.76,145.19 L450.34,145.08 L450.92,144.98 L451.5,144.87 L452.07,144.77 L452.65,144.67 L453.23,144.57 L453.81,144.47 L454.39,144.37 L454.97,144.28 L455.55,144.18 L456.13,144.09 L456.71,144 L457.29,143.9 L457.87,143.81 L458.45,143.72 L459.03,143.62 L459.61,143.53 L460.18,143.43 L460.76,143.34 L461.34,143.24 L461.92,143.14 L462.5,143.03 L463.08,142.93 L463.66,142.83 L464.24,142.73 L464.82,142.62 L465.4,142.52 L465.98,142.42 L466.56,142.33 L467.14,142.23 L467.71,142.14 L468.29,142.05 L468.87,141.97 L469.45,141.89 L470.03,141.81 L470.61,141.74 L471.19,141.67 L471.77,141.61 L472.35,141.56 L472.93,141.5 L473.51,141.45 L474.09,141.4 L474.67,141.35 L475.24,141.3 L475.82,141.25 L476.4,141.21 L476.98,141.16 L477.56,141.12 L478.14,141.08 L478.72,141.04 L479.3,141 L479.88,140.97 L480.46,140.93 L481.04,140.9 L481.62,140.87 L482.2,140.84 L482.78,140.82 L483.35,140.79 L483.93,140.77 L484.51,140.74 L485.09,140.72 L485.67,140.7 L486.25,140.67 L486.83,140.65 L487.41,140.63 L487.99,140.61 L488.57,140.59 L489.15,140.57 L489.73,140.55 L490.31,140.53 L490.88,140.52 L491.46,140.5 L492.04,140.49 L492.62,140.48 L493.2,140.47 L493.78,140.47 L494.36,140.46 L494.94,140.46 L495.52,140.46 L496.1,140.46 L496.68,140.46 L497.26,140.46 L497.84,140.46 L498.41,140.46 L498.99,140.46 L499.57,140.46 L500.15,140.46 L500.73,140.46 L501.31,140.46 L501.89,140.46 L502.47,140.46 L503.05,140.46 L503.63,140.46 L504.21,140.46 L504.79,140.46 L505.37,140.46 L505.95,140.46 L506.52,140.46 L507.1,140.47 L507.68,140.49 L508.26,140.51 L508.84,140.54 L509.42,140.58 L510,140.63 L510.58,140.68 L511.16,140.74 L511.74,140.81 L512.32,140.87 L512.9,140.94 L513.48,141.02 L514.05,141.09 L514.63,141.17 L515.21,141.25 L515.79,141.33 L516.37,141.41 L516.95,141.49 L517.53,141.57 L518.11,141.64 L518.69,141.73 L519.27,141.84 L519.85,141.96 L520.43,142.09 L521.01,142.22 L521.58,142.34 L522.16,142.46 L522.74,142.57 L523.32,142.66 L523.9,142.73 L524.48,142.78 L525.06,142.79 L525.64,142.76 L526.22,142.69 L526.8,142.59 L527.38,142.47 L527.96,142.32 L528.54,142.15 L529.12,141.97 L529.69,141.78 L530.27,141.59 L530.85,141.4 L531.43,141.22 L532.01,140.97 L532.59,140.67 L533.17,140.35 L533.75,140.03 L534.33,139.74 L534.91,139.5 L535.49,139.35 L536.07,139.29 L536.65,139.25 L537.22,139.22 L537.8,139.2 L538.38,139.18 L538.96,139.16 L539.54,139.15 L540.12,139.14 L540.7,139.14" stroke="#5e5e5e" stroke-width="1.2" fill="none" stroke-linejoin="round" stroke-dasharray="2.1,1.8"/>
<path d="M309,7 L309.58,7.02 L310.16,7.04 L310.74,7.06 L311.32,7.08 L311.9,7.1 L312.48,7.13 L313.05,7.15 L313.63,7.17 L314.21,7.19 L314.79,7.21 L315.37,7.24 L315.95,7.26 L316.53,7.28 L317.11,7.3 L317.69,7.33 L318.27,7.35 L318.85,7.37 L319.43,7.4 L320.01,7.42 L320.58,7.44 L321.16,7.47 L321.74,7.49 L322.32,7.52 L322.9,7.54 L323.48,7.57 L324.06,7.59 L324.64,7.62 L325.22,7.64 L325.8,7.67 L326.38,7.69 L326.96,7.72 L327.54,7.74 L328.12,7.77 L328.69,7.8 L329.27,7.82 L329.85,7.85 L330.43,7.87 L331.01,7.9 L331.59,7.93 L332.17,7.95 L332.75,7.98 L333.33,8.01 L333.91,8.04 L334.49,8.06 L335.07,8.09 L335.65,8.12 L336.22,8.14 L336.8,8.17 L337.38,8.2 L337.96,8.23 L338.54,8.26 L339.12,8.28 L339.7,8.31 L340.28,8.34 L340.86,8.37 L341.44,8.39 L342.02,8.42 L342.6,8.44 L343.18,8.47 L343.75,8.49 L344.33,8.52 L344.91,8.54 L345.49,8.57 L346.07,8.59 L346.65,8.62 L347.23,8.64 L347.81,8.67 L348.39,8.7 L348.97,8.73 L349.55,8.76 L350.13,8.79 L350.71,8.82 L351.29,8.86 L351.86,8.89 L352.44,8.93 L353.02,8.97 L353.6,9.01 L354.18,9.06 L354.76,9.11 L355.34,9.16 L355.92,9.22 L356.5,9.29 L357.08,9.37 L357.66,9.46 L358.24,9.56 L358.82,9.67 L359.39,9.78 L359.97,9.9 L360.55,10.03 L361.13,10.16 L361.71,10.29 L362.29,10.43 L362.87,10.58 L363.45,10.74 L364.03,10.91 L364.61,11.09 L365.19,11.28 L365.77,11.48 L366.35,11.69 L366.93,11.91 L367.5,12.14 L368.08,12.38 L368.66,12.63 L369.24,12.92 L369.82,13.23 L370.4,13.57 L370.98,13.92 L371.56,14.27 L372.14,14.62 L372.72,14.97 L373.3,15.31 L373.88,15.65 L374.46,16.01 L375.03,16.36 L375.61,16.71 L376.19,17.07 L376.77,17.42 L377.35,17.77 L377.93,18.11 L378.51,18.45 L379.09,18.79 L379.67,19.13 L380.25,19.46 L380.83,19.79 L381.41,20.13 L381.99,20.46 L382.56,20.79 L383.14,21.12 L383.72,21.44 L384.3,21.77 L384.88,22.09 L385.46,22.41 L386.04,22.73 L386.62,23.05 L387.2,23.36 L387.78,23.67 L388.36,23.98 L388.94,24.28 L389.52,24.58 L390.1,24.88 L390.67,25.18 L391.25,25.47 L391.83,25.76 L392.41,26.05 L392.99,26.33 L393.57,26.62 L394.15,26.9 L394.73,27.18 L395.31,27.45 L395.89,27.73 L396.47,28 L397.05,28.28 L397.63,28.55 L398.2,28.82 L398.78,29.08 L399.36,29.35 L399.94,29.62 L400.52,29.88 L401.1,30.14 L401.68,30.41 L402.26,30.67 L402.84,30.93 L403.42,31.19 L404,31.45 L404.58,31.7 L405.16,31.96 L405.73,32.22 L406.31,32.47 L406.89,32.72 L407.47,32.97 L408.05,33.22 L408.63,33.47 L409.21,33.72 L409.79,33.96 L410.37,34.2 L410.95,34.44 L411.53,34.68 L412.11,34.92 L412.69,35.15 L413.26,35.39 L413.84,35.62 L414.42,35.84 L415,36.07 L415.58,36.29 L416.16,36.52 L416.74,36.74 L417.32,36.96 L417.9,37.17 L418.48,37.39 L419.06,37.6 L419.64,37.82 L420.22,38.03 L420.8,38.24 L421.37,38.45 L421.95,38.66 L422.53,38.87 L423.11,39.08 L423.69,39.29 L424.27,39.49 L424.85,39.7 L425.43,39.91 L426.01,40.13 L426.59,40.34 L427.17,40.56 L427.75,40.79 L428.33,41.01 L428.9,41.24 L429.48,41.47 L430.06,41.7 L430.64,41.92 L431.22,42.15 L431.8,42.37 L432.38,42.59 L432.96,42.8 L433.54,43.01 L434.12,43.22 L434.7,43.42 L435.28,43.61 L435.86,43.8 L436.44,43.98 L437.01,44.15 L437.59,44.31 L438.17,44.46 L438.75,44.6 L439.33,44.73 L439.91,44.85 L440.49,44.96 L441.07,45.06 L441.65,45.17 L442.23,45.26 L442.81,45.36 L443.39,45.45 L443.97,45.54 L444.54,45.63 L445.12,45.71 L445.7,45.79 L446.28,45.86 L446.86,45.94 L447.44,46 L448.02,46.07 L448.6,46.13 L449.18,46.19 L449.76,46.25 L450.34,46.3 L450.92,46.35 L451.5,46.4 L452.07,46.45 L452.65,46.5 L453.23,46.55 L453.81,46.6 L454.39,46.65 L454.97,46.69 L455.55,46.74 L456.13,46.78 L456.71,46.82 L457.29,46.86 L457.87,46.89 L458.45,46.92 L459.03,46.95 L459.61,46.97 L460.18,46.99 L460.76,47 L461.34,47 L461.92,47.01 L462.5,47 L463.08,47 L463.66,46.99 L464.24,46.98 L464.82,46.97 L465.4,46.96 L465.98,46.94 L466.56,46.92 L467.14,46.9 L467.71,46.88 L468.29,46.86 L468.87,46.84 L469.45,46.82 L470.03,46.79 L470.61,46.76 L471.19,46.74 L471.77,46.71 L472.35,46.68 L472.93,46.66 L473.51,46.62 L474.09,46.58 L474.67,46.54 L475.24,46.49 L475.82,46.44 L476.4,46.38 L476.98,46.32 L477.56,46.26 L478.14,46.19 L478.72,46.12 L479.3,46.05 L479.88,45.98 L480.46,45.91 L481.04,45.84 L481.62,45.76 L482.2,45.69 L482.78,45.62 L483.35,45.55 L483.93,45.48 L484.51,45.42 L485.09,45.35 L485.67,45.28 L486.25,45.21 L486.83,45.14 L487.41,45.06 L487.99,44.99 L488.57,44.91 L489.15,44.84 L489.73,44.76 L490.31,44.69 L490.88,44.61 L491.46,44.53 L492.04,44.45 L492.62,44.37 L493.2,44.29 L493.78,44.2 L494.36,44.12 L494.94,44.04 L495.52,43.95 L496.1,43.86 L496.68,43.78 L497.26,43.69 L497.84,43.61 L498.41,43.52 L498.99,43.43 L499.57,43.34 L500.15,43.24 L500.73,43.15 L501.31,43.05 L501.89,42.95 L502.47,42.84 L503.05,42.73 L503.63,42.62 L504.21,42.5 L504.79,42.37 L505.37,42.24 L505.95,42.09 L506.52,41.94 L507.1,41.79 L507.68,41.62 L508.26,41.46 L508.84,41.29 L509.42,41.12 L510,40.94 L510.58,40.77 L511.16,40.6 L511.74,40.43 L512.32,40.26 L512.9,40.1 L513.48,39.94 L514.05,39.77 L514.63,39.6 L515.21,39.42 L515.79,39.24 L516.37,39.06 L516.95,38.88 L517.53,38.71 L518.11,38.53 L518.69,38.37 L519.27,38.2 L519.85,38.05 L520.43,37.91 L521.01,37.77 L521.58,37.65 L522.16,37.54 L522.74,37.45 L523.32,37.35 L523.9,37.27 L524.48,37.18 L525.06,37.1 L525.64,37.03 L526.22,36.95 L526.8,36.88 L527.38,36.82 L527.96,36.75 L528.54,36.69 L529.12,36.62 L529.69,36.56 L530.27,36.5 L530.85,36.44 L531.43,36.38 L532.01,36.32 L532.59,36.26 L533.17,36.2 L533.75,36.15 L534.33,36.09 L534.91,36.04 L535.49,35.98 L536.07,35.93 L536.65,35.88 L537.22,35.83 L537.8,35.78 L538.38,35.73 L538.96,35.68 L539.54,35.64 L540.12,35.59 L540.7,35.55" stroke="#ff6b6b" stroke-width="1.25" fill="none" stroke-linejoin="round"/>
<path d="M309,173 L309.58,172.99 L310.16,172.99 L310.74,172.98 L311.32,172.97 L311.9,172.97 L312.48,172.96 L313.05,172.95 L313.63,172.94 L314.21,172.93 L314.79,172.91 L315.37,172.9 L315.95,172.89 L316.53,172.87 L317.11,172.86 L317.69,172.85 L318.27,172.83 L318.85,172.81 L319.43,172.8 L320.01,172.78 L320.58,172.76 L321.16,172.74 L321.74,172.73 L322.32,172.71 L322.9,172.69 L323.48,172.67 L324.06,172.65 L324.64,172.63 L325.22,172.61 L325.8,172.58 L326.38,172.56 L326.96,172.54 L327.54,172.52 L328.12,172.5 L328.69,172.47 L329.27,172.45 L329.85,172.43 L330.43,172.41 L331.01,172.38 L331.59,172.36 L332.17,172.34 L332.75,172.31 L333.33,172.29 L333.91,172.26 L334.49,172.23 L335.07,172.2 L335.65,172.16 L336.22,172.13 L336.8,172.1 L337.38,172.06 L337.96,172.02 L338.54,171.98 L339.12,171.94 L339.7,171.9 L340.28,171.86 L340.86,171.82 L341.44,171.78 L342.02,171.74 L342.6,171.7 L343.18,171.65 L343.75,171.61 L344.33,171.57 L344.91,171.53 L345.49,171.49 L346.07,171.44 L346.65,171.4 L347.23,171.36 L347.81,171.32 L348.39,171.28 L348.97,171.24 L349.55,171.2 L350.13,171.17 L350.71,171.13 L351.29,171.1 L351.86,171.07 L352.44,171.04 L353.02,171.01 L353.6,170.98 L354.18,170.94 L354.76,170.9 L355.34,170.84 L355.92,170.77 L356.5,170.66 L357.08,170.53 L357.66,170.37 L358.24,170.2 L358.82,170.02 L359.39,169.83 L359.97,169.64 L360.55,169.46 L361.13,169.28 L361.71,169.1 L362.29,168.92 L362.87,168.73 L363.45,168.53 L364.03,168.33 L364.61,168.12 L365.19,167.9 L365.77,167.66 L366.35,167.41 L366.93,167.13 L367.5,166.81 L368.08,166.47 L368.66,166.1 L369.24,165.71 L369.82,165.32 L370.4,164.93 L370.98,164.54 L371.56,164.18 L372.14,163.83 L372.72,163.49 L373.3,163.15 L373.88,162.82 L374.46,162.49 L375.03,162.17 L375.61,161.84 L376.19,161.52 L376.77,161.19 L377.35,160.87 L377.93,160.54 L378.51,160.22 L379.09,159.89 L379.67,159.56 L380.25,159.23 L380.83,158.89 L381.41,158.56 L381.99,158.22 L382.56,157.89 L383.14,157.56 L383.72,157.23 L384.3,156.9 L384.88,156.57 L385.46,156.24 L386.04,155.92 L386.62,155.61 L387.2,155.29 L387.78,154.98 L388.36,154.68 L388.94,154.38 L389.52,154.08 L390.1,153.78 L390.67,153.49 L391.25,153.19 L391.83,152.9 L392.41,152.61 L392.99,152.32 L393.57,152.03 L394.15,151.75 L394.73,151.47 L395.31,151.19 L395.89,150.91 L396.47,150.63 L397.05,150.36 L397.63,150.09 L398.2,149.82 L398.78,149.55 L399.36,149.29 L399.94,149.03 L400.52,148.77 L401.1,148.52 L401.68,148.27 L402.26,148.02 L402.84,147.78 L403.42,147.55 L404,147.33 L404.58,147.11 L405.16,146.89 L405.73,146.67 L406.31,146.45 L406.89,146.23 L407.47,146.01 L408.05,145.78 L408.63,145.55 L409.21,145.3 L409.79,145.05 L410.37,144.78 L410.95,144.5 L411.53,144.19 L412.11,143.88 L412.69,143.56 L413.26,143.24 L413.84,142.92 L414.42,142.62 L415,142.33 L415.58,142.06 L416.16,141.81 L416.74,141.57 L417.32,141.33 L417.9,141.1 L418.48,140.88 L419.06,140.66 L419.64,140.44 L420.22,140.23 L420.8,140.02 L421.37,139.82 L421.95,139.62 L422.53,139.43 L423.11,139.24 L423.69,139.05 L424.27,138.87 L424.85,138.69 L425.43,138.51 L426.01,138.34 L426.59,138.17 L427.17,138.01 L427.75,137.84 L428.33,137.68 L428.9,137.53 L429.48,137.37 L430.06,137.22 L430.64,137.07 L431.22,136.92 L431.8,136.78 L432.38,136.63 L432.96,136.5 L433.54,136.36 L434.12,136.23 L434.7,136.1 L435.28,135.97 L435.86,135.84 L436.44,135.72 L437.01,135.6 L437.59,135.48 L438.17,135.37 L438.75,135.26 L439.33,135.14 L439.91,135.03 L440.49,134.92 L441.07,134.81 L441.65,134.7 L442.23,134.6 L442.81,134.5 L443.39,134.4 L443.97,134.3 L444.54,134.2 L445.12,134.11 L445.7,134.03 L446.28,133.94 L446.86,133.86 L447.44,133.78 L448.02,133.71 L448.6,133.64 L449.18,133.58 L449.76,133.51 L450.34,133.44 L450.92,133.37 L451.5,133.3 L452.07,133.24 L452.65,133.17 L453.23,133.1 L453.81,133.04 L454.39,132.98 L454.97,132.93 L455.55,132.88 L456.13,132.83 L456.71,132.79 L457.29,132.75 L457.87,132.72 L458.45,132.69 L459.03,132.68 L459.61,132.66 L460.18,132.66 L460.76,132.66 L461.34,132.66 L461.92,132.66 L462.5,132.66 L463.08,132.66 L463.66,132.66 L464.24,132.66 L464.82,132.66 L465.4,132.66 L465.98,132.66 L466.56,132.66 L467.14,132.66 L467.71,132.66 L468.29,132.66 L468.87,132.66 L469.45,132.66 L470.03,132.66 L470.61,132.66 L471.19,132.66 L471.77,132.66 L472.35,132.67 L472.93,132.7 L473.51,132.74 L474.09,132.79 L474.67,132.85 L475.24,132.93 L475.82,133.01 L476.4,133.1 L476.98,133.19 L477.56,133.3 L478.14,133.4 L478.72,133.51 L479.3,133.62 L479.88,133.73 L480.46,133.84 L481.04,133.95 L481.62,134.05 L482.2,134.15 L482.78,134.25 L483.35,134.34 L483.93,134.43 L484.51,134.51 L485.09,134.6 L485.67,134.68 L486.25,134.77 L486.83,134.86 L487.41,134.94 L487.99,135.03 L488.57,135.12 L489.15,135.21 L489.73,135.3 L490.31,135.39 L490.88,135.48 L491.46,135.57 L492.04,135.67 L492.62,135.76 L493.2,135.86 L493.78,135.96 L494.36,136.06 L494.94,136.17 L495.52,136.28 L496.1,136.39 L496.68,136.5 L497.26,136.62 L497.84,136.74 L498.41,136.86 L498.99,136.98 L499.57,137.11 L500.15,137.23 L500.73,137.36 L501.31,137.49 L501.89,137.62 L502.47,137.75 L503.05,137.88 L503.63,138.01 L504.21,138.14 L504.79,138.27 L505.37,138.41 L505.95,138.53 L506.52,138.66 L507.1,138.79 L507.68,138.93 L508.26,139.06 L508.84,139.2 L509.42,139.34 L510,139.47 L510.58,139.61 L511.16,139.75 L511.74,139.89 L512.32,140.03 L512.9,140.17 L513.48,140.31 L514.05,140.44 L514.63,140.57 L515.21,140.71 L515.79,140.83 L516.37,140.96 L516.95,141.08 L517.53,141.2 L518.11,141.32 L518.69,141.43 L519.27,141.54 L519.85,141.65 L520.43,141.76 L521.01,141.87 L521.58,141.98 L522.16,142.08 L522.74,142.19 L523.32,142.29 L523.9,142.39 L524.48,142.49 L525.06,142.59 L525.64,142.68 L526.22,142.78 L526.8,142.87 L527.38,142.96 L527.96,143.05 L528.54,143.14 L529.12,143.22 L529.69,143.3 L530.27,143.38 L530.85,143.46 L531.43,143.54 L532.01,143.62 L532.59,143.7 L533.17,143.77 L533.75,143.84 L534.33,143.92 L534.91,143.99 L535.49,144.06 L536.07,144.13 L536.65,144.19 L537.22,144.26 L537.8,144.32 L538.38,144.38 L538.96,144.44 L539.54,144.5 L540.12,144.56 L540.7,144.61" stroke="#ff6868" stroke-width="1.2" fill="none" stroke-linejoin="round" stroke-dasharray="2.1,1.8"/>
<rect x="319.3" y="41.5" width="74.3" height="42.2" fill="#fff" stroke="#9a9a9a" stroke-width="0.9"/>
<line x1="320.3" y1="47.5" x2="339.2" y2="47.5" stroke="#5a5a5a" stroke-width="0.9"/>
<text x="341.9" y="50.25" font-size="8.35" fill="#1a1a1a" color="#1a1a1a">CF Ratio-NS</text>
<line x1="320.3" y1="57.83" x2="339.2" y2="57.83" stroke="#8a8a8a" stroke-width="1.4" stroke-dasharray="2,2.4"/>
<text x="341.9" y="60.58" font-size="8.35" fill="#1a1a1a" color="#1a1a1a">FJF Ratio-NS</text>
<line x1="320.3" y1="68.16" x2="339.2" y2="68.16" stroke="#ff9090" stroke-width="1.7"/>
<text x="341.9" y="70.91" font-size="8.35" fill="#1a1a1a" color="#1a1a1a">CF Ratio-FS</text>
<line x1="320.3" y1="78.49" x2="339.2" y2="78.49" stroke="#ff6262" stroke-width="1.2" stroke-dasharray="2.2,2"/>
<text x="341.9" y="81.24" font-size="8.35" fill="#1a1a1a" color="#1a1a1a">FJF Ratio-FS</text>
<g font-size="7.3" fill="#262626" color="#262626"><text x="309" y="184.2" text-anchor="middle">0</text><text x="355.34" y="184.2" text-anchor="middle">20</text><text x="401.68" y="184.2" text-anchor="middle">40</text><text x="448.02" y="184.2" text-anchor="middle">60</text><text x="494.36" y="184.2" text-anchor="middle">80</text><text x="540.7" y="184.2" text-anchor="middle">100</text><text x="304" y="175.5" text-anchor="end">0.0</text><text x="304" y="142.3" text-anchor="end">0.2</text><text x="304" y="109.1" text-anchor="end">0.4</text><text x="304" y="75.9" text-anchor="end">0.6</text><text x="304" y="42.7" text-anchor="end">0.8</text><text x="304" y="9.5" text-anchor="end">1.0</text></g>
<text x="425.15" y="197" font-size="8.4" fill="#1a1a1a" color="#1a1a1a" text-anchor="middle">Head Extension Motion Cycle (%)</text>
<text transform="translate(290,90) rotate(-90)" font-size="8.48" fill="#1a1a1a" color="#1a1a1a" text-anchor="middle">Spinal Load Sharing Ratio</text>
<text x="425.2" y="210.3" font-size="10.6" fill="#111" color="#111" text-anchor="middle">(b) C4–C5</text>
<line x1="32" y1="366.9" x2="261.6" y2="366.9" stroke="#f0f0f0" stroke-width="1"/>
<line x1="32" y1="350.3" x2="261.6" y2="350.3" stroke="#e8e8e8" stroke-width="1"/>
<line x1="32" y1="333.7" x2="261.6" y2="333.7" stroke="#f0f0f0" stroke-width="1"/>
<line x1="32" y1="317.1" x2="261.6" y2="317.1" stroke="#e8e8e8" stroke-width="1"/>
<line x1="32" y1="300.5" x2="261.6" y2="300.5" stroke="#f0f0f0" stroke-width="1"/>
<line x1="32" y1="283.9" x2="261.6" y2="283.9" stroke="#e8e8e8" stroke-width="1"/>
<line x1="32" y1="267.3" x2="261.6" y2="267.3" stroke="#f0f0f0" stroke-width="1"/>
<line x1="32" y1="250.7" x2="261.6" y2="250.7" stroke="#e8e8e8" stroke-width="1"/>
<line x1="32" y1="234.1" x2="261.6" y2="234.1" stroke="#f0f0f0" stroke-width="1"/>
<line x1="30.9" y1="216.5" x2="30.9" y2="384.3" stroke="#929292" stroke-width="2"/>
<line x1="30" y1="217.6" x2="263.2" y2="217.6" stroke="#484848" stroke-width="1.2"/>
<line x1="30" y1="383.6" x2="263.3" y2="383.6" stroke="#525252" stroke-width="1.5"/>
<line x1="262.6" y1="216.5" x2="262.6" y2="384.3" stroke="#4a4a4a" stroke-width="1.4"/>
<path d="M31,384.1V386.7M31,218.3V220.3M27.5,383.5H30.4M259.8,383.5H262.2M54.16,383.7V385.1M54.16,218V219.1M29.8,366.9H31.2M261.1,366.9H262.4M77.32,384.1V386.7M77.32,218.3V220.3M27.5,350.3H30.4M259.8,350.3H262.2M100.48,383.7V385.1M100.48,218V219.1M29.8,333.7H31.2M261.1,333.7H262.4M123.64,384.1V386.7M123.64,218.3V220.3M27.5,317.1H30.4M259.8,317.1H262.2M146.8,383.7V385.1M146.8,218V219.1M29.8,300.5H31.2M261.1,300.5H262.4M169.96,384.1V386.7M169.96,218.3V220.3M27.5,283.9H30.4M259.8,283.9H262.2M193.12,383.7V385.1M193.12,218V219.1M29.8,267.3H31.2M261.1,267.3H262.4M216.28,384.1V386.7M216.28,218.3V220.3M27.5,250.7H30.4M259.8,250.7H262.2M239.44,383.7V385.1M239.44,218V219.1M29.8,234.1H31.2M261.1,234.1H262.4M262.6,384.1V386.7M262.6,218.3V220.3M27.5,217.5H30.4M259.8,217.5H262.2" stroke="#2a2a2a" stroke-width="1" fill="none"/>
<path d="M31,217.5 L31.58,217.52 L32.16,217.54 L32.74,217.56 L33.32,217.58 L33.9,217.6 L34.47,217.62 L35.05,217.64 L35.63,217.66 L36.21,217.68 L36.79,217.7 L37.37,217.72 L37.95,217.74 L38.53,217.76 L39.11,217.77 L39.69,217.79 L40.26,217.81 L40.84,217.83 L41.42,217.85 L42,217.86 L42.58,217.88 L43.16,217.9 L43.74,217.91 L44.32,217.93 L44.9,217.95 L45.48,217.96 L46.05,217.98 L46.63,217.99 L47.21,218.01 L47.79,218.02 L48.37,218.04 L48.95,218.05 L49.53,218.06 L50.11,218.08 L50.69,218.09 L51.27,218.1 L51.84,218.12 L52.42,218.13 L53,218.14 L53.58,218.15 L54.16,218.16 L54.74,218.17 L55.32,218.19 L55.9,218.2 L56.48,218.21 L57.06,218.22 L57.63,218.23 L58.21,218.24 L58.79,218.24 L59.37,218.25 L59.95,218.26 L60.53,218.27 L61.11,218.28 L61.69,218.29 L62.27,218.3 L62.85,218.3 L63.42,218.31 L64,218.32 L64.58,218.33 L65.16,218.34 L65.74,218.34 L66.32,218.35 L66.9,218.36 L67.48,218.37 L68.06,218.37 L68.64,218.38 L69.21,218.39 L69.79,218.4 L70.37,218.4 L70.95,218.41 L71.53,218.42 L72.11,218.43 L72.69,218.43 L73.27,218.44 L73.85,218.45 L74.42,218.46 L75,218.46 L75.58,218.47 L76.16,218.48 L76.74,218.49 L77.32,218.5 L77.9,218.5 L78.48,218.51 L79.06,218.52 L79.64,218.53 L80.22,218.54 L80.79,218.54 L81.37,218.55 L81.95,218.56 L82.53,218.57 L83.11,218.58 L83.69,218.58 L84.27,218.59 L84.85,218.6 L85.43,218.61 L86.01,218.61 L86.58,218.62 L87.16,218.63 L87.74,218.64 L88.32,218.65 L88.9,218.65 L89.48,218.66 L90.06,218.67 L90.64,218.68 L91.22,218.69 L91.8,218.69 L92.37,218.7 L92.95,218.71 L93.53,218.72 L94.11,218.73 L94.69,218.74 L95.27,218.74 L95.85,218.75 L96.43,218.76 L97.01,218.77 L97.59,218.78 L98.16,218.79 L98.74,218.8 L99.32,218.81 L99.9,218.82 L100.48,218.83 L101.06,218.84 L101.64,218.85 L102.22,218.86 L102.8,218.87 L103.38,218.88 L103.95,218.89 L104.53,218.9 L105.11,218.91 L105.69,218.93 L106.27,218.94 L106.85,218.95 L107.43,218.96 L108.01,218.97 L108.59,218.98 L109.17,219 L109.74,219.01 L110.32,219.02 L110.9,219.03 L111.48,219.05 L112.06,219.06 L112.64,219.07 L113.22,219.09 L113.8,219.1 L114.38,219.11 L114.95,219.12 L115.53,219.14 L116.11,219.15 L116.69,219.16 L117.27,219.18 L117.85,219.19 L118.43,219.2 L119.01,219.22 L119.59,219.23 L120.17,219.25 L120.75,219.26 L121.32,219.27 L121.9,219.29 L122.48,219.3 L123.06,219.31 L123.64,219.33 L124.22,219.34 L124.8,219.35 L125.38,219.37 L125.96,219.38 L126.54,219.39 L127.11,219.41 L127.69,219.42 L128.27,219.43 L128.85,219.45 L129.43,219.46 L130.01,219.48 L130.59,219.49 L131.17,219.5 L131.75,219.52 L132.33,219.53 L132.9,219.55 L133.48,219.56 L134.06,219.57 L134.64,219.59 L135.22,219.6 L135.8,219.62 L136.38,219.63 L136.96,219.65 L137.54,219.66 L138.12,219.67 L138.69,219.69 L139.27,219.7 L139.85,219.72 L140.43,219.73 L141.01,219.75 L141.59,219.76 L142.17,219.78 L142.75,219.79 L143.33,219.81 L143.91,219.82 L144.48,219.84 L145.06,219.85 L145.64,219.87 L146.22,219.89 L146.8,219.9 L147.38,219.92 L147.96,219.93 L148.54,219.95 L149.12,219.96 L149.7,219.98 L150.27,220 L150.85,220.01 L151.43,220.03 L152.01,220.04 L152.59,220.05 L153.17,220.07 L153.75,220.08 L154.33,220.1 L154.91,220.11 L155.49,220.13 L156.06,220.14 L156.64,220.16 L157.22,220.17 L157.8,220.19 L158.38,220.21 L158.96,220.24 L159.54,220.26 L160.12,220.28 L160.7,220.31 L161.28,220.34 L161.85,220.38 L162.43,220.42 L163.01,220.47 L163.59,220.53 L164.17,220.59 L164.75,220.65 L165.33,220.73 L165.91,220.81 L166.49,220.89 L167.07,220.98 L167.64,221.07 L168.22,221.17 L168.8,221.27 L169.38,221.37 L169.96,221.48 L170.54,221.61 L171.12,221.77 L171.7,221.95 L172.28,222.15 L172.86,222.36 L173.43,222.59 L174.01,222.83 L174.59,223.07 L175.17,223.31 L175.75,223.54 L176.33,223.77 L176.91,223.98 L177.49,224.18 L178.07,224.37 L178.65,224.55 L179.22,224.73 L179.8,224.91 L180.38,225.08 L180.96,225.26 L181.54,225.43 L182.12,225.6 L182.7,225.77 L183.28,225.94 L183.86,226.11 L184.44,226.29 L185.01,226.46 L185.59,226.64 L186.17,226.82 L186.75,227 L187.33,227.18 L187.91,227.36 L188.49,227.54 L189.07,227.72 L189.65,227.9 L190.23,228.07 L190.8,228.25 L191.38,228.43 L191.96,228.61 L192.54,228.78 L193.12,228.95 L193.7,229.13 L194.28,229.3 L194.86,229.47 L195.44,229.64 L196.01,229.82 L196.59,229.99 L197.17,230.16 L197.75,230.33 L198.33,230.5 L198.91,230.67 L199.49,230.84 L200.07,231 L200.65,231.17 L201.23,231.34 L201.81,231.5 L202.38,231.67 L202.96,231.83 L203.54,231.99 L204.12,232.15 L204.7,232.31 L205.28,232.47 L205.86,232.63 L206.44,232.78 L207.02,232.94 L207.59,233.09 L208.17,233.24 L208.75,233.39 L209.33,233.54 L209.91,233.69 L210.49,233.84 L211.07,233.99 L211.65,234.14 L212.23,234.28 L212.81,234.43 L213.38,234.58 L213.96,234.73 L214.54,234.87 L215.12,235.02 L215.7,235.17 L216.28,235.32 L216.86,235.47 L217.44,235.62 L218.02,235.77 L218.6,235.92 L219.18,236.07 L219.75,236.22 L220.33,236.37 L220.91,236.52 L221.49,236.67 L222.07,236.82 L222.65,236.97 L223.23,237.12 L223.81,237.27 L224.39,237.42 L224.97,237.57 L225.54,237.72 L226.12,237.87 L226.7,238.02 L227.28,238.17 L227.86,238.33 L228.44,238.48 L229.02,238.64 L229.6,238.8 L230.18,238.95 L230.76,239.11 L231.33,239.27 L231.91,239.43 L232.49,239.59 L233.07,239.74 L233.65,239.9 L234.23,240.05 L234.81,240.2 L235.39,240.34 L235.97,240.48 L236.55,240.62 L237.12,240.75 L237.7,240.88 L238.28,241 L238.86,241.12 L239.44,241.22 L240.02,241.32 L240.6,241.42 L241.18,241.51 L241.76,241.6 L242.34,241.68 L242.91,241.77 L243.49,241.86 L244.07,241.95 L244.65,242.04 L245.23,242.14 L245.81,242.25 L246.39,242.36 L246.97,242.48 L247.55,242.61 L248.13,242.75 L248.7,242.9 L249.28,243.07 L249.86,243.28 L250.44,243.52 L251.02,243.77 L251.6,244.05 L252.18,244.33 L252.76,244.63 L253.34,244.92 L253.92,245.22 L254.49,245.5 L255.07,245.8 L255.65,246.1 L256.23,246.41 L256.81,246.73 L257.39,247.05 L257.97,247.38 L258.55,247.71 L259.13,248.05 L259.71,248.4 L260.28,248.75 L260.86,249.1 L261.44,249.46 L262.02,249.83 L262.6,250.2" stroke="#505050" stroke-width="1.25" fill="none" stroke-linejoin="round"/>
<path d="M31,383.5 L31.58,383.49 L32.16,383.48 L32.74,383.46 L33.32,383.45 L33.9,383.44 L34.47,383.43 L35.05,383.41 L35.63,383.4 L36.21,383.39 L36.79,383.38 L37.37,383.36 L37.95,383.35 L38.53,383.34 L39.11,383.33 L39.69,383.31 L40.26,383.3 L40.84,383.29 L41.42,383.28 L42,383.26 L42.58,383.25 L43.16,383.24 L43.74,383.23 L44.32,383.21 L44.9,383.2 L45.48,383.19 L46.05,383.18 L46.63,383.16 L47.21,383.15 L47.79,383.14 L48.37,383.13 L48.95,383.11 L49.53,383.1 L50.11,383.09 L50.69,383.08 L51.27,383.06 L51.84,383.05 L52.42,383.04 L53,383.03 L53.58,383.01 L54.16,383 L54.74,382.99 L55.32,382.98 L55.9,382.96 L56.48,382.95 L57.06,382.94 L57.63,382.93 L58.21,382.91 L58.79,382.9 L59.37,382.89 L59.95,382.88 L60.53,382.86 L61.11,382.85 L61.69,382.84 L62.27,382.82 L62.85,382.81 L63.42,382.8 L64,382.79 L64.58,382.77 L65.16,382.76 L65.74,382.75 L66.32,382.74 L66.9,382.72 L67.48,382.71 L68.06,382.7 L68.64,382.69 L69.21,382.67 L69.79,382.66 L70.37,382.65 L70.95,382.64 L71.53,382.62 L72.11,382.61 L72.69,382.6 L73.27,382.59 L73.85,382.58 L74.42,382.56 L75,382.55 L75.58,382.54 L76.16,382.53 L76.74,382.52 L77.32,382.5 L77.9,382.49 L78.48,382.48 L79.06,382.47 L79.64,382.46 L80.22,382.45 L80.79,382.44 L81.37,382.42 L81.95,382.41 L82.53,382.4 L83.11,382.39 L83.69,382.38 L84.27,382.37 L84.85,382.36 L85.43,382.35 L86.01,382.34 L86.58,382.33 L87.16,382.31 L87.74,382.3 L88.32,382.29 L88.9,382.28 L89.48,382.27 L90.06,382.26 L90.64,382.25 L91.22,382.24 L91.8,382.23 L92.37,382.22 L92.95,382.21 L93.53,382.2 L94.11,382.19 L94.69,382.18 L95.27,382.17 L95.85,382.16 L96.43,382.15 L97.01,382.13 L97.59,382.12 L98.16,382.11 L98.74,382.1 L99.32,382.1 L99.9,382.09 L100.48,382.08 L101.06,382.07 L101.64,382.06 L102.22,382.05 L102.8,382.04 L103.38,382.03 L103.95,382.02 L104.53,382.01 L105.11,382 L105.69,381.99 L106.27,381.98 L106.85,381.97 L107.43,381.96 L108.01,381.95 L108.59,381.94 L109.17,381.93 L109.74,381.92 L110.32,381.91 L110.9,381.91 L111.48,381.9 L112.06,381.89 L112.64,381.88 L113.22,381.87 L113.8,381.86 L114.38,381.85 L114.95,381.84 L115.53,381.83 L116.11,381.82 L116.69,381.81 L117.27,381.8 L117.85,381.79 L118.43,381.78 L119.01,381.76 L119.59,381.75 L120.17,381.74 L120.75,381.73 L121.32,381.72 L121.9,381.71 L122.48,381.7 L123.06,381.69 L123.64,381.67 L124.22,381.66 L124.8,381.65 L125.38,381.64 L125.96,381.62 L126.54,381.61 L127.11,381.6 L127.69,381.58 L128.27,381.57 L128.85,381.55 L129.43,381.54 L130.01,381.52 L130.59,381.51 L131.17,381.49 L131.75,381.48 L132.33,381.46 L132.9,381.44 L133.48,381.43 L134.06,381.41 L134.64,381.4 L135.22,381.38 L135.8,381.36 L136.38,381.35 L136.96,381.33 L137.54,381.32 L138.12,381.3 L138.69,381.28 L139.27,381.27 L139.85,381.25 L140.43,381.24 L141.01,381.22 L141.59,381.2 L142.17,381.19 L142.75,381.17 L143.33,381.16 L143.91,381.14 L144.48,381.13 L145.06,381.12 L145.64,381.1 L146.22,381.09 L146.8,381.08 L147.38,381.06 L147.96,381.05 L148.54,381.04 L149.12,381.03 L149.7,381.02 L150.27,381.01 L150.85,381 L151.43,380.99 L152.01,380.98 L152.59,380.97 L153.17,380.97 L153.75,380.96 L154.33,380.95 L154.91,380.95 L155.49,380.94 L156.06,380.94 L156.64,380.93 L157.22,380.92 L157.8,380.91 L158.38,380.9 L158.96,380.89 L159.54,380.88 L160.12,380.87 L160.7,380.85 L161.28,380.83 L161.85,380.8 L162.43,380.75 L163.01,380.69 L163.59,380.62 L164.17,380.54 L164.75,380.46 L165.33,380.37 L165.91,380.27 L166.49,380.18 L167.07,380.08 L167.64,379.96 L168.22,379.82 L168.8,379.68 L169.38,379.53 L169.96,379.37 L170.54,379.21 L171.12,379.04 L171.7,378.88 L172.28,378.72 L172.86,378.56 L173.43,378.39 L174.01,378.22 L174.59,378.04 L175.17,377.86 L175.75,377.68 L176.33,377.5 L176.91,377.31 L177.49,377.13 L178.07,376.94 L178.65,376.76 L179.22,376.57 L179.8,376.39 L180.38,376.21 L180.96,376.04 L181.54,375.86 L182.12,375.7 L182.7,375.53 L183.28,375.37 L183.86,375.22 L184.44,375.07 L185.01,374.92 L185.59,374.78 L186.17,374.64 L186.75,374.5 L187.33,374.36 L187.91,374.22 L188.49,374.08 L189.07,373.94 L189.65,373.79 L190.23,373.65 L190.8,373.5 L191.38,373.35 L191.96,373.2 L192.54,373.04 L193.12,372.88 L193.7,372.71 L194.28,372.53 L194.86,372.35 L195.44,372.16 L196.01,371.96 L196.59,371.77 L197.17,371.57 L197.75,371.36 L198.33,371.16 L198.91,370.96 L199.49,370.75 L200.07,370.55 L200.65,370.34 L201.23,370.14 L201.81,369.94 L202.38,369.75 L202.96,369.56 L203.54,369.38 L204.12,369.2 L204.7,369.02 L205.28,368.86 L205.86,368.7 L206.44,368.55 L207.02,368.4 L207.59,368.25 L208.17,368.11 L208.75,367.97 L209.33,367.84 L209.91,367.7 L210.49,367.57 L211.07,367.44 L211.65,367.3 L212.23,367.17 L212.81,367.04 L213.38,366.9 L213.96,366.76 L214.54,366.62 L215.12,366.48 L215.7,366.33 L216.28,366.17 L216.86,366.02 L217.44,365.86 L218.02,365.69 L218.6,365.53 L219.18,365.36 L219.75,365.19 L220.33,365.02 L220.91,364.84 L221.49,364.67 L222.07,364.5 L222.65,364.32 L223.23,364.15 L223.81,363.98 L224.39,363.81 L224.97,363.64 L225.54,363.47 L226.12,363.31 L226.7,363.15 L227.28,362.99 L227.86,362.83 L228.44,362.67 L229.02,362.52 L229.6,362.36 L230.18,362.21 L230.76,362.06 L231.33,361.9 L231.91,361.75 L232.49,361.6 L233.07,361.45 L233.65,361.3 L234.23,361.16 L234.81,361.01 L235.39,360.86 L235.97,360.72 L236.55,360.57 L237.12,360.43 L237.7,360.29 L238.28,360.15 L238.86,360.01 L239.44,359.87 L240.02,359.74 L240.6,359.6 L241.18,359.47 L241.76,359.33 L242.34,359.2 L242.91,359.07 L243.49,358.94 L244.07,358.81 L244.65,358.67 L245.23,358.54 L245.81,358.4 L246.39,358.27 L246.97,358.14 L247.55,358.01 L248.13,357.89 L248.7,357.77 L249.28,357.64 L249.86,357.51 L250.44,357.37 L251.02,357.22 L251.6,357.05 L252.18,356.86 L252.76,356.63 L253.34,356.36 L253.92,356.07 L254.49,355.75 L255.07,355.41 L255.65,355.06 L256.23,354.71 L256.81,354.36 L257.39,354.02 L257.97,353.68 L258.55,353.34 L259.13,352.99 L259.71,352.64 L260.28,352.28 L260.86,351.92 L261.44,351.55 L262.02,351.18 L262.6,350.8" stroke="#5e5e5e" stroke-width="1.2" fill="none" stroke-linejoin="round" stroke-dasharray="2.1,1.8"/>
<path d="M31,217.5 L31.58,217.52 L32.16,217.55 L32.74,217.57 L33.32,217.6 L33.9,217.62 L34.47,217.65 L35.05,217.67 L35.63,217.7 L36.21,217.72 L36.79,217.75 L37.37,217.77 L37.95,217.8 L38.53,217.82 L39.11,217.85 L39.69,217.87 L40.26,217.9 L40.84,217.92 L41.42,217.95 L42,217.97 L42.58,218 L43.16,218.02 L43.74,218.05 L44.32,218.07 L44.9,218.1 L45.48,218.12 L46.05,218.15 L46.63,218.17 L47.21,218.2 L47.79,218.22 L48.37,218.25 L48.95,218.27 L49.53,218.3 L50.11,218.32 L50.69,218.35 L51.27,218.37 L51.84,218.4 L52.42,218.42 L53,218.45 L53.58,218.47 L54.16,218.5 L54.74,218.52 L55.32,218.55 L55.9,218.57 L56.48,218.59 L57.06,218.62 L57.63,218.64 L58.21,218.67 L58.79,218.69 L59.37,218.71 L59.95,218.74 L60.53,218.76 L61.11,218.79 L61.69,218.81 L62.27,218.83 L62.85,218.86 L63.42,218.88 L64,218.9 L64.58,218.93 L65.16,218.95 L65.74,218.98 L66.32,219 L66.9,219.02 L67.48,219.05 L68.06,219.07 L68.64,219.1 L69.21,219.12 L69.79,219.15 L70.37,219.17 L70.95,219.2 L71.53,219.22 L72.11,219.25 L72.69,219.27 L73.27,219.3 L73.85,219.33 L74.42,219.35 L75,219.38 L75.58,219.41 L76.16,219.44 L76.74,219.46 L77.32,219.49 L77.9,219.52 L78.48,219.55 L79.06,219.58 L79.64,219.62 L80.22,219.65 L80.79,219.68 L81.37,219.72 L81.95,219.75 L82.53,219.79 L83.11,219.83 L83.69,219.86 L84.27,219.9 L84.85,219.94 L85.43,219.97 L86.01,220.01 L86.58,220.05 L87.16,220.08 L87.74,220.12 L88.32,220.15 L88.9,220.19 L89.48,220.22 L90.06,220.26 L90.64,220.29 L91.22,220.32 L91.8,220.35 L92.37,220.38 L92.95,220.41 L93.53,220.43 L94.11,220.46 L94.69,220.48 L95.27,220.5 L95.85,220.52 L96.43,220.53 L97.01,220.55 L97.59,220.56 L98.16,220.58 L98.74,220.59 L99.32,220.61 L99.9,220.63 L100.48,220.65 L101.06,220.68 L101.64,220.72 L102.22,220.76 L102.8,220.8 L103.38,220.85 L103.95,220.91 L104.53,220.97 L105.11,221.03 L105.69,221.1 L106.27,221.17 L106.85,221.25 L107.43,221.33 L108.01,221.42 L108.59,221.51 L109.17,221.6 L109.74,221.69 L110.32,221.79 L110.9,221.9 L111.48,222 L112.06,222.13 L112.64,222.27 L113.22,222.44 L113.8,222.63 L114.38,222.83 L114.95,223.05 L115.53,223.28 L116.11,223.51 L116.69,223.76 L117.27,224.01 L117.85,224.27 L118.43,224.53 L119.01,224.79 L119.59,225.04 L120.17,225.3 L120.75,225.54 L121.32,225.78 L121.9,226 L122.48,226.22 L123.06,226.43 L123.64,226.64 L124.22,226.85 L124.8,227.06 L125.38,227.27 L125.96,227.48 L126.54,227.69 L127.11,227.89 L127.69,228.1 L128.27,228.3 L128.85,228.51 L129.43,228.71 L130.01,228.91 L130.59,229.11 L131.17,229.3 L131.75,229.49 L132.33,229.69 L132.9,229.88 L133.48,230.06 L134.06,230.25 L134.64,230.43 L135.22,230.62 L135.8,230.8 L136.38,230.98 L136.96,231.16 L137.54,231.33 L138.12,231.51 L138.69,231.69 L139.27,231.86 L139.85,232.03 L140.43,232.2 L141.01,232.37 L141.59,232.53 L142.17,232.7 L142.75,232.86 L143.33,233.02 L143.91,233.18 L144.48,233.33 L145.06,233.49 L145.64,233.64 L146.22,233.79 L146.8,233.94 L147.38,234.09 L147.96,234.24 L148.54,234.38 L149.12,234.53 L149.7,234.67 L150.27,234.81 L150.85,234.95 L151.43,235.09 L152.01,235.22 L152.59,235.36 L153.17,235.49 L153.75,235.62 L154.33,235.75 L154.91,235.88 L155.49,236 L156.06,236.12 L156.64,236.24 L157.22,236.36 L157.8,236.48 L158.38,236.6 L158.96,236.71 L159.54,236.83 L160.12,236.94 L160.7,237.05 L161.28,237.16 L161.85,237.27 L162.43,237.38 L163.01,237.49 L163.59,237.6 L164.17,237.7 L164.75,237.81 L165.33,237.92 L165.91,238.02 L166.49,238.13 L167.07,238.23 L167.64,238.33 L168.22,238.44 L168.8,238.54 L169.38,238.64 L169.96,238.75 L170.54,238.85 L171.12,238.96 L171.7,239.06 L172.28,239.16 L172.86,239.27 L173.43,239.37 L174.01,239.47 L174.59,239.58 L175.17,239.68 L175.75,239.78 L176.33,239.88 L176.91,239.98 L177.49,240.08 L178.07,240.18 L178.65,240.27 L179.22,240.37 L179.8,240.46 L180.38,240.56 L180.96,240.65 L181.54,240.73 L182.12,240.82 L182.7,240.91 L183.28,240.99 L183.86,241.07 L184.44,241.15 L185.01,241.23 L185.59,241.3 L186.17,241.38 L186.75,241.45 L187.33,241.52 L187.91,241.59 L188.49,241.67 L189.07,241.74 L189.65,241.81 L190.23,241.88 L190.8,241.95 L191.38,242.02 L191.96,242.09 L192.54,242.16 L193.12,242.23 L193.7,242.31 L194.28,242.38 L194.86,242.46 L195.44,242.54 L196.01,242.62 L196.59,242.7 L197.17,242.78 L197.75,242.86 L198.33,242.94 L198.91,243.02 L199.49,243.09 L200.07,243.17 L200.65,243.24 L201.23,243.32 L201.81,243.39 L202.38,243.45 L202.96,243.52 L203.54,243.58 L204.12,243.64 L204.7,243.69 L205.28,243.74 L205.86,243.78 L206.44,243.83 L207.02,243.87 L207.59,243.91 L208.17,243.96 L208.75,244 L209.33,244.03 L209.91,244.07 L210.49,244.11 L211.07,244.14 L211.65,244.18 L212.23,244.21 L212.81,244.24 L213.38,244.27 L213.96,244.3 L214.54,244.33 L215.12,244.35 L215.7,244.38 L216.28,244.4 L216.86,244.43 L217.44,244.45 L218.02,244.47 L218.6,244.5 L219.18,244.52 L219.75,244.55 L220.33,244.57 L220.91,244.59 L221.49,244.61 L222.07,244.63 L222.65,244.65 L223.23,244.67 L223.81,244.68 L224.39,244.7 L224.97,244.71 L225.54,244.72 L226.12,244.72 L226.7,244.72 L227.28,244.72 L227.86,244.72 L228.44,244.72 L229.02,244.71 L229.6,244.7 L230.18,244.69 L230.76,244.67 L231.33,244.66 L231.91,244.64 L232.49,244.62 L233.07,244.6 L233.65,244.58 L234.23,244.55 L234.81,244.53 L235.39,244.5 L235.97,244.48 L236.55,244.45 L237.12,244.42 L237.7,244.4 L238.28,244.37 L238.86,244.32 L239.44,244.27 L240.02,244.2 L240.6,244.13 L241.18,244.05 L241.76,243.97 L242.34,243.88 L242.91,243.8 L243.49,243.71 L244.07,243.63 L244.65,243.55 L245.23,243.47 L245.81,243.41 L246.39,243.35 L246.97,243.3 L247.55,243.26 L248.13,243.24 L248.7,243.23 L249.28,243.24 L249.86,243.26 L250.44,243.29 L251.02,243.33 L251.6,243.39 L252.18,243.45 L252.76,243.52 L253.34,243.59 L253.92,243.68 L254.49,243.77 L255.07,243.95 L255.65,244.2 L256.23,244.46 L256.81,244.7 L257.39,244.87 L257.97,244.96 L258.55,245.05 L259.13,245.13 L259.71,245.2 L260.28,245.26 L260.86,245.32 L261.44,245.36 L262.02,245.38 L262.6,245.39" stroke="#ff6b6b" stroke-width="1.25" fill="none" stroke-linejoin="round"/>
<path d="M31,383.5 L31.58,383.48 L32.16,383.47 L32.74,383.45 L33.32,383.43 L33.9,383.42 L34.47,383.4 L35.05,383.38 L35.63,383.37 L36.21,383.35 L36.79,383.33 L37.37,383.32 L37.95,383.3 L38.53,383.28 L39.11,383.27 L39.69,383.25 L40.26,383.23 L40.84,383.22 L41.42,383.2 L42,383.18 L42.58,383.17 L43.16,383.15 L43.74,383.13 L44.32,383.12 L44.9,383.1 L45.48,383.08 L46.05,383.07 L46.63,383.05 L47.21,383.04 L47.79,383.02 L48.37,383 L48.95,382.99 L49.53,382.97 L50.11,382.95 L50.69,382.94 L51.27,382.92 L51.84,382.9 L52.42,382.89 L53,382.87 L53.58,382.85 L54.16,382.84 L54.74,382.82 L55.32,382.8 L55.9,382.79 L56.48,382.77 L57.06,382.76 L57.63,382.74 L58.21,382.73 L58.79,382.71 L59.37,382.7 L59.95,382.68 L60.53,382.67 L61.11,382.66 L61.69,382.64 L62.27,382.63 L62.85,382.61 L63.42,382.6 L64,382.59 L64.58,382.57 L65.16,382.56 L65.74,382.54 L66.32,382.53 L66.9,382.51 L67.48,382.5 L68.06,382.48 L68.64,382.47 L69.21,382.45 L69.79,382.43 L70.37,382.42 L70.95,382.4 L71.53,382.38 L72.11,382.36 L72.69,382.35 L73.27,382.33 L73.85,382.31 L74.42,382.29 L75,382.26 L75.58,382.24 L76.16,382.22 L76.74,382.2 L77.32,382.17 L77.9,382.15 L78.48,382.12 L79.06,382.09 L79.64,382.05 L80.22,382.02 L80.79,381.98 L81.37,381.94 L81.95,381.9 L82.53,381.85 L83.11,381.81 L83.69,381.76 L84.27,381.72 L84.85,381.67 L85.43,381.62 L86.01,381.57 L86.58,381.52 L87.16,381.47 L87.74,381.42 L88.32,381.37 L88.9,381.32 L89.48,381.27 L90.06,381.22 L90.64,381.17 L91.22,381.12 L91.8,381.07 L92.37,381.03 L92.95,380.98 L93.53,380.94 L94.11,380.9 L94.69,380.86 L95.27,380.82 L95.85,380.79 L96.43,380.76 L97.01,380.73 L97.59,380.7 L98.16,380.67 L98.74,380.63 L99.32,380.6 L99.9,380.56 L100.48,380.51 L101.06,380.46 L101.64,380.39 L102.22,380.31 L102.8,380.23 L103.38,380.13 L103.95,380.04 L104.53,379.94 L105.11,379.84 L105.69,379.74 L106.27,379.64 L106.85,379.54 L107.43,379.44 L108.01,379.34 L108.59,379.23 L109.17,379.13 L109.74,379.01 L110.32,378.9 L110.9,378.78 L111.48,378.66 L112.06,378.54 L112.64,378.41 L113.22,378.28 L113.8,378.15 L114.38,378.02 L114.95,377.88 L115.53,377.73 L116.11,377.58 L116.69,377.42 L117.27,377.26 L117.85,377.08 L118.43,376.89 L119.01,376.7 L119.59,376.5 L120.17,376.29 L120.75,376.08 L121.32,375.86 L121.9,375.65 L122.48,375.44 L123.06,375.23 L123.64,375.03 L124.22,374.84 L124.8,374.64 L125.38,374.44 L125.96,374.24 L126.54,374.05 L127.11,373.85 L127.69,373.65 L128.27,373.46 L128.85,373.26 L129.43,373.07 L130.01,372.88 L130.59,372.69 L131.17,372.5 L131.75,372.31 L132.33,372.13 L132.9,371.95 L133.48,371.77 L134.06,371.6 L134.64,371.43 L135.22,371.27 L135.8,371.1 L136.38,370.94 L136.96,370.78 L137.54,370.63 L138.12,370.47 L138.69,370.32 L139.27,370.16 L139.85,370.01 L140.43,369.85 L141.01,369.7 L141.59,369.54 L142.17,369.39 L142.75,369.23 L143.33,369.07 L143.91,368.91 L144.48,368.75 L145.06,368.58 L145.64,368.41 L146.22,368.24 L146.8,368.06 L147.38,367.88 L147.96,367.69 L148.54,367.5 L149.12,367.3 L149.7,367.1 L150.27,366.9 L150.85,366.69 L151.43,366.49 L152.01,366.28 L152.59,366.08 L153.17,365.88 L153.75,365.69 L154.33,365.5 L154.91,365.31 L155.49,365.13 L156.06,364.95 L156.64,364.77 L157.22,364.6 L157.8,364.42 L158.38,364.25 L158.96,364.08 L159.54,363.93 L160.12,363.77 L160.7,363.63 L161.28,363.5 L161.85,363.38 L162.43,363.26 L163.01,363.14 L163.59,363.03 L164.17,362.92 L164.75,362.82 L165.33,362.71 L165.91,362.61 L166.49,362.51 L167.07,362.41 L167.64,362.32 L168.22,362.22 L168.8,362.12 L169.38,362.02 L169.96,361.92 L170.54,361.82 L171.12,361.71 L171.7,361.61 L172.28,361.5 L172.86,361.39 L173.43,361.28 L174.01,361.18 L174.59,361.07 L175.17,360.96 L175.75,360.86 L176.33,360.75 L176.91,360.65 L177.49,360.55 L178.07,360.45 L178.65,360.35 L179.22,360.26 L179.8,360.17 L180.38,360.08 L180.96,359.99 L181.54,359.91 L182.12,359.83 L182.7,359.76 L183.28,359.69 L183.86,359.63 L184.44,359.57 L185.01,359.51 L185.59,359.45 L186.17,359.4 L186.75,359.35 L187.33,359.3 L187.91,359.25 L188.49,359.2 L189.07,359.15 L189.65,359.1 L190.23,359.05 L190.8,358.99 L191.38,358.94 L191.96,358.88 L192.54,358.83 L193.12,358.77 L193.7,358.7 L194.28,358.63 L194.86,358.56 L195.44,358.49 L196.01,358.41 L196.59,358.33 L197.17,358.25 L197.75,358.17 L198.33,358.09 L198.91,358.01 L199.49,357.93 L200.07,357.85 L200.65,357.77 L201.23,357.7 L201.81,357.63 L202.38,357.55 L202.96,357.49 L203.54,357.42 L204.12,357.37 L204.7,357.31 L205.28,357.26 L205.86,357.22 L206.44,357.17 L207.02,357.13 L207.59,357.09 L208.17,357.04 L208.75,357 L209.33,356.97 L209.91,356.93 L210.49,356.89 L211.07,356.86 L211.65,356.82 L212.23,356.79 L212.81,356.76 L213.38,356.73 L213.96,356.7 L214.54,356.67 L215.12,356.65 L215.7,356.62 L216.28,356.6 L216.86,356.57 L217.44,356.55 L218.02,356.53 L218.6,356.5 L219.18,356.48 L219.75,356.45 L220.33,356.43 L220.91,356.41 L221.49,356.39 L222.07,356.37 L222.65,356.35 L223.23,356.33 L223.81,356.32 L224.39,356.3 L224.97,356.29 L225.54,356.28 L226.12,356.28 L226.7,356.28 L227.28,356.28 L227.86,356.28 L228.44,356.28 L229.02,356.29 L229.6,356.3 L230.18,356.31 L230.76,356.33 L231.33,356.34 L231.91,356.36 L232.49,356.38 L233.07,356.4 L233.65,356.42 L234.23,356.44 L234.81,356.47 L235.39,356.49 L235.97,356.52 L236.55,356.54 L237.12,356.57 L237.7,356.6 L238.28,356.64 L238.86,356.7 L239.44,356.77 L240.02,356.86 L240.6,356.96 L241.18,357.07 L241.76,357.18 L242.34,357.29 L242.91,357.39 L243.49,357.49 L244.07,357.58 L244.65,357.66 L245.23,357.72 L245.81,357.76 L246.39,357.77 L246.97,357.76 L247.55,357.74 L248.13,357.7 L248.7,357.65 L249.28,357.6 L249.86,357.53 L250.44,357.46 L251.02,357.39 L251.6,357.32 L252.18,357.24 L252.76,357.15 L253.34,357.03 L253.92,356.91 L254.49,356.77 L255.07,356.63 L255.65,356.49 L256.23,356.36 L256.81,356.24 L257.39,356.13 L257.97,356.04 L258.55,355.95 L259.13,355.86 L259.71,355.78 L260.28,355.7 L260.86,355.63 L261.44,355.56 L262.02,355.5 L262.6,355.45" stroke="#ff6868" stroke-width="1.2" fill="none" stroke-linejoin="round" stroke-dasharray="2.1,1.8"/>
<rect x="34.6" y="252.4" width="74.3" height="42.2" fill="#fff" stroke="#9a9a9a" stroke-width="0.9"/>
<line x1="35.6" y1="258.4" x2="54.5" y2="258.4" stroke="#a4a4a4" stroke-width="1.9"/>
<text x="57.2" y="261.15" font-size="8.35" fill="#1a1a1a" color="#1a1a1a">CF Ratio-NS</text>
<line x1="35.6" y1="268.73" x2="54.5" y2="268.73" stroke="#505050" stroke-width="1.2" stroke-dasharray="2.2,2.1"/>
<text x="57.2" y="271.48" font-size="8.35" fill="#1a1a1a" color="#1a1a1a">FJF Ratio-NS</text>
<line x1="35.6" y1="279.06" x2="54.5" y2="279.06" stroke="#ff5a5a" stroke-width="1.0"/>
<text x="57.2" y="281.81" font-size="8.35" fill="#1a1a1a" color="#1a1a1a">CF Ratio-FS</text>
<line x1="35.6" y1="289.39" x2="54.5" y2="289.39" stroke="#ff8080" stroke-width="1.5" stroke-dasharray="2,2.4"/>
<text x="57.2" y="292.14" font-size="8.35" fill="#1a1a1a" color="#1a1a1a">FJF Ratio-FS</text>
<g font-size="7.3" fill="#262626" color="#262626"><text x="31" y="394.7" text-anchor="middle">0</text><text x="77.32" y="394.7" text-anchor="middle">20</text><text x="123.64" y="394.7" text-anchor="middle">40</text><text x="169.96" y="394.7" text-anchor="middle">60</text><text x="216.28" y="394.7" text-anchor="middle">80</text><text x="262.6" y="394.7" text-anchor="middle">100</text><text x="26" y="386" text-anchor="end">0.0</text><text x="26" y="352.8" text-anchor="end">0.2</text><text x="26" y="319.6" text-anchor="end">0.4</text><text x="26" y="286.4" text-anchor="end">0.6</text><text x="26" y="253.2" text-anchor="end">0.8</text><text x="26" y="220" text-anchor="end">1.0</text></g>
<text x="147.1" y="407.5" font-size="8.4" fill="#1a1a1a" color="#1a1a1a" text-anchor="middle">Head Extension Motion Cycle (%)</text>
<text transform="translate(12,300.5) rotate(-90)" font-size="8.48" fill="#1a1a1a" color="#1a1a1a" text-anchor="middle">Spinal Load Sharing Ratio</text>
<text x="146.2" y="420.8" font-size="10.6" fill="#111" color="#111" text-anchor="middle">(c) C6–C7</text>
</svg>
</body></html>
